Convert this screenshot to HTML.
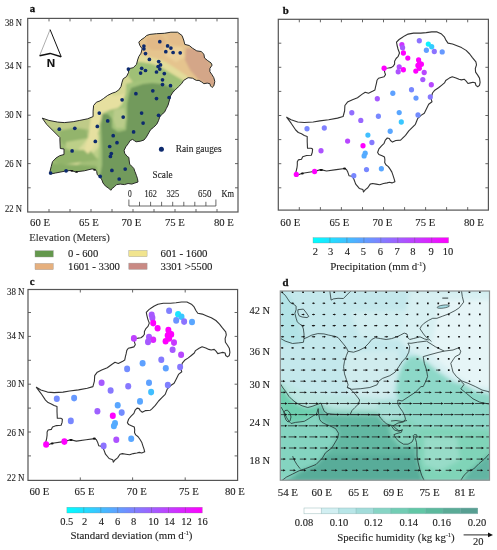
<!DOCTYPE html><html><head><meta charset="utf-8"><title>Pakistan maps</title><style>html,body{margin:0;padding:0;background:#fff;}svg{display:block;}</style></head><body>
<svg width="497" height="550" viewBox="0 0 497 550">
<defs>
<clipPath id="pka"><polygon points="42.2,118.1 48.9,120.4 57.7,122.1 64.3,122.6 73.2,121.7 79.8,120.4 87.6,118.8 93.1,116.6 93.1,111.1 93.6,105.5 96.4,102.2 100.0,100.9 103.3,98.7 107.7,95.4 112.1,93.2 115.5,92.1 118.8,89.9 121.0,86.6 122.1,82.1 123.2,78.8 126.5,76.6 128.7,72.2 127.6,68.9 133.2,67.7 136.5,64.4 137.6,60.0 138.8,56.5 141.0,53.2 142.1,48.8 139.9,45.5 138.8,42.1 141.0,39.9 144.3,37.7 146.6,35.5 149.9,34.4 156.5,33.7 164.3,33.3 170.9,32.2 177.5,32.2 182.0,35.5 183.7,40.0 184.8,44.4 189.2,45.5 192.5,48.2 196.8,50.9 201.2,51.5 203.9,54.2 204.5,58.0 207.8,60.7 211.0,62.9 212.1,65.1 209.9,68.4 209.9,71.7 212.1,74.9 213.8,77.7 214.8,81.5 213.8,85.9 212.1,87.5 210.5,85.9 209.9,83.7 207.2,83.1 203.9,83.7 201.7,82.0 199.0,80.4 196.3,80.4 192.5,78.2 188.1,77.7 183.7,80.4 181.6,83.7 178.3,86.9 175.0,90.2 173.0,92.0 170.5,96.0 169.5,100.0 168.1,105.0 166.3,108.6 164.5,112.2 161.5,114.7 159.7,117.1 158.5,120.7 156.7,124.3 153.6,127.3 150.6,129.7 148.8,132.8 146.4,137.0 144.0,140.0 140.4,141.2 136.1,141.8 134.3,140.6 132.5,139.4 130.1,140.6 128.3,143.6 125.9,146.7 124.1,150.3 124.7,153.3 127.1,156.3 128.9,157.5 129.1,160.0 129.7,164.2 131.8,166.3 133.8,168.4 134.9,171.5 136.5,175.7 137.5,178.8 138.0,182.0 134.9,183.0 131.8,184.1 128.1,183.5 124.4,184.6 120.2,184.1 116.6,184.6 114.5,186.7 112.4,188.2 110.8,190.3 108.7,188.2 105.6,186.2 103.0,183.0 101.9,179.9 99.8,176.7 97.2,174.6 96.7,171.5 95.1,169.4 92.0,168.9 84.3,170.8 75.4,171.9 71.0,170.4 64.3,171.3 55.5,173.0 50.0,174.1 50.0,171.4 51.2,166.6 52.5,161.7 56.0,158.0 59.7,155.7 64.0,154.5 64.0,149.0 60.3,148.5 59.9,140.0 59.9,137.6 53.3,131.0 46.6,124.3"/></clipPath>
<filter id="blA" x="-5%" y="-5%" width="110%" height="110%"><feGaussianBlur stdDeviation="1.3"/></filter>
<filter id="blD" x="-10%" y="-10%" width="120%" height="120%"><feGaussianBlur stdDeviation="2.2"/></filter>
<clipPath id="fd"><rect x="280.3" y="291" width="209.2" height="189.2"/></clipPath>
<linearGradient id="gcool" x1="0" x2="1" y1="0" y2="0"><stop offset="0" stop-color="#00ffff"/><stop offset="1" stop-color="#ff00ff"/></linearGradient>
</defs>
<rect width="497" height="550" fill="#fff"/>
<g clip-path="url(#pka)">
<polygon points="42.2,118.1 48.9,120.4 57.7,122.1 64.3,122.6 73.2,121.7 79.8,120.4 87.6,118.8 93.1,116.6 93.1,111.1 93.6,105.5 96.4,102.2 100.0,100.9 103.3,98.7 107.7,95.4 112.1,93.2 115.5,92.1 118.8,89.9 121.0,86.6 122.1,82.1 123.2,78.8 126.5,76.6 128.7,72.2 127.6,68.9 133.2,67.7 136.5,64.4 137.6,60.0 138.8,56.5 141.0,53.2 142.1,48.8 139.9,45.5 138.8,42.1 141.0,39.9 144.3,37.7 146.6,35.5 149.9,34.4 156.5,33.7 164.3,33.3 170.9,32.2 177.5,32.2 182.0,35.5 183.7,40.0 184.8,44.4 189.2,45.5 192.5,48.2 196.8,50.9 201.2,51.5 203.9,54.2 204.5,58.0 207.8,60.7 211.0,62.9 212.1,65.1 209.9,68.4 209.9,71.7 212.1,74.9 213.8,77.7 214.8,81.5 213.8,85.9 212.1,87.5 210.5,85.9 209.9,83.7 207.2,83.1 203.9,83.7 201.7,82.0 199.0,80.4 196.3,80.4 192.5,78.2 188.1,77.7 183.7,80.4 181.6,83.7 178.3,86.9 175.0,90.2 173.0,92.0 170.5,96.0 169.5,100.0 168.1,105.0 166.3,108.6 164.5,112.2 161.5,114.7 159.7,117.1 158.5,120.7 156.7,124.3 153.6,127.3 150.6,129.7 148.8,132.8 146.4,137.0 144.0,140.0 140.4,141.2 136.1,141.8 134.3,140.6 132.5,139.4 130.1,140.6 128.3,143.6 125.9,146.7 124.1,150.3 124.7,153.3 127.1,156.3 128.9,157.5 129.1,160.0 129.7,164.2 131.8,166.3 133.8,168.4 134.9,171.5 136.5,175.7 137.5,178.8 138.0,182.0 134.9,183.0 131.8,184.1 128.1,183.5 124.4,184.6 120.2,184.1 116.6,184.6 114.5,186.7 112.4,188.2 110.8,190.3 108.7,188.2 105.6,186.2 103.0,183.0 101.9,179.9 99.8,176.7 97.2,174.6 96.7,171.5 95.1,169.4 92.0,168.9 84.3,170.8 75.4,171.9 71.0,170.4 64.3,171.3 55.5,173.0 50.0,174.1 50.0,171.4 51.2,166.6 52.5,161.7 56.0,158.0 59.7,155.7 64.0,154.5 64.0,149.0 60.3,148.5 59.9,140.0 59.9,137.6 53.3,131.0 46.6,124.3" fill="#a3bf78"/>
<g filter="url(#blA)">
<polygon points="40.0,112.0 100.0,108.0 100.0,132.0 80.0,128.0 60.0,130.0 45.0,128.0" fill="#bfcb88"/>
<polygon points="60.0,131.0 72.0,128.0 86.0,130.0 88.0,140.0 82.0,147.0 66.0,147.0 60.0,140.0" fill="#93b46c"/>
<polygon points="66.0,142.0 100.0,136.0 100.0,158.0 80.0,162.0 64.0,160.0" fill="#bccf88"/>
<polygon points="88.0,138.0 100.0,134.0 100.0,146.0 92.0,154.0 82.0,162.0 72.0,168.0 62.0,166.0 68.0,158.0 78.0,150.0" fill="#d8db9a"/>
<polygon points="55.0,145.0 70.0,150.0 90.0,150.0 98.0,160.0 60.0,165.0 52.0,160.0" fill="#92b46b"/>
<polygon points="46.0,163.0 60.0,164.0 80.0,165.0 96.0,166.0 100.0,176.0 48.0,178.0" fill="#88ad65"/>
<polygon points="92.0,96.0 100.0,96.0 115.0,92.0 124.0,88.0 130.0,85.0 131.0,95.0 126.0,104.0 118.0,108.0 110.0,110.0 103.0,113.0 100.0,125.0 97.0,138.0 93.0,148.0 88.0,154.0 84.0,150.0 88.0,138.0 90.0,124.0 92.0,108.0" fill="#e6e0a0"/>
<polygon points="116.0,70.0 130.0,64.0 137.0,60.0 137.0,80.0 130.0,90.0 122.0,95.0 112.0,96.0" fill="#d6d894"/>
<polygon points="132.0,53.0 138.0,53.0 146.0,55.0 154.0,57.0 164.0,60.0 172.0,65.0 181.0,71.0 190.0,77.0 196.0,80.0 190.0,84.0 182.0,80.0 172.0,74.0 162.0,68.0 152.0,64.0 140.0,62.0 132.0,62.0" fill="#e2dc9a"/>
<polygon points="130.0,62.0 140.0,62.0 152.0,64.0 162.0,68.0 172.0,74.0 182.0,80.0 190.0,84.0 184.0,90.0 170.0,88.0 150.0,86.0 136.0,86.0 128.0,76.0" fill="#9fc076"/>
<polygon points="126.0,84.0 140.0,80.0 160.0,80.0 176.0,86.0 190.0,90.0 172.0,130.0 150.0,160.0 135.0,190.0 98.0,195.0 97.0,172.0 99.0,150.0 99.0,125.0 104.0,113.0 114.0,112.0 122.0,104.0 126.0,92.0" fill="#a3c27a"/>
<polygon points="131.0,88.0 143.0,84.0 152.0,83.0 162.0,84.0 170.0,87.0 176.0,90.0 186.0,86.0 190.0,95.0 172.0,130.0 150.0,160.0 140.0,195.0 104.0,195.0 100.0,176.0 102.0,165.0 102.0,150.0 101.0,125.0 102.0,114.0 108.0,114.0 112.0,119.0 112.0,128.0 118.0,132.0 126.0,130.0 127.0,118.0 127.0,104.0 129.0,94.0" fill="#729a5c"/>
<polygon points="114.0,110.0 124.0,108.0 126.0,118.0 124.0,128.0 116.0,128.0 113.0,119.0" fill="#b9cc8a"/>
<polygon points="136.0,38.0 146.0,33.0 160.0,32.0 178.0,31.0 186.0,38.0 196.0,46.0 206.0,54.0 214.0,68.0 217.0,88.0 210.0,88.0 204.0,84.0 196.0,81.0 190.0,78.0 181.0,72.0 172.0,66.0 164.0,61.0 154.0,58.0 146.0,56.0 138.0,54.0" fill="#e5c48e"/>
<polygon points="146.0,38.0 160.0,34.0 166.0,40.0 164.0,50.0 152.0,50.0 146.0,46.0" fill="#e2b987"/>
<polygon points="166.0,33.0 182.0,32.0 186.0,40.0 182.0,46.0 170.0,44.0" fill="#e3bd8b"/>
<polygon points="186.0,48.0 196.0,48.0 206.0,56.0 212.0,68.0 216.0,86.0 208.0,86.0 198.0,79.0 190.0,70.0 185.0,60.0" fill="#d4a688"/>
<polygon points="164.0,47.0 182.0,47.0 185.0,57.0 176.0,62.0 166.0,56.0" fill="#ebd09a"/>
</g></g>
<polygon points="42.2,118.1 48.9,120.4 57.7,122.1 64.3,122.6 73.2,121.7 79.8,120.4 87.6,118.8 93.1,116.6 93.1,111.1 93.6,105.5 96.4,102.2 100.0,100.9 103.3,98.7 107.7,95.4 112.1,93.2 115.5,92.1 118.8,89.9 121.0,86.6 122.1,82.1 123.2,78.8 126.5,76.6 128.7,72.2 127.6,68.9 133.2,67.7 136.5,64.4 137.6,60.0 138.8,56.5 141.0,53.2 142.1,48.8 139.9,45.5 138.8,42.1 141.0,39.9 144.3,37.7 146.6,35.5 149.9,34.4 156.5,33.7 164.3,33.3 170.9,32.2 177.5,32.2 182.0,35.5 183.7,40.0 184.8,44.4 189.2,45.5 192.5,48.2 196.8,50.9 201.2,51.5 203.9,54.2 204.5,58.0 207.8,60.7 211.0,62.9 212.1,65.1 209.9,68.4 209.9,71.7 212.1,74.9 213.8,77.7 214.8,81.5 213.8,85.9 212.1,87.5 210.5,85.9 209.9,83.7 207.2,83.1 203.9,83.7 201.7,82.0 199.0,80.4 196.3,80.4 192.5,78.2 188.1,77.7 183.7,80.4 181.6,83.7 178.3,86.9 175.0,90.2 173.0,92.0 170.5,96.0 169.5,100.0 168.1,105.0 166.3,108.6 164.5,112.2 161.5,114.7 159.7,117.1 158.5,120.7 156.7,124.3 153.6,127.3 150.6,129.7 148.8,132.8 146.4,137.0 144.0,140.0 140.4,141.2 136.1,141.8 134.3,140.6 132.5,139.4 130.1,140.6 128.3,143.6 125.9,146.7 124.1,150.3 124.7,153.3 127.1,156.3 128.9,157.5 129.1,160.0 129.7,164.2 131.8,166.3 133.8,168.4 134.9,171.5 136.5,175.7 137.5,178.8 138.0,182.0 134.9,183.0 131.8,184.1 128.1,183.5 124.4,184.6 120.2,184.1 116.6,184.6 114.5,186.7 112.4,188.2 110.8,190.3 108.7,188.2 105.6,186.2 103.0,183.0 101.9,179.9 99.8,176.7 97.2,174.6 96.7,171.5 95.1,169.4 92.0,168.9 84.3,170.8 75.4,171.9 71.0,170.4 64.3,171.3 55.5,173.0 50.0,174.1 50.0,171.4 51.2,166.6 52.5,161.7 56.0,158.0 59.7,155.7 64.0,154.5 64.0,149.0 60.3,148.5 59.9,140.0 59.9,137.6 53.3,131.0 46.6,124.3" fill="none" stroke="#2a2a2a" stroke-width="1.0" stroke-linejoin="round"/>
<ellipse cx="71.8" cy="170.8" rx="1.5" ry="0.9" fill="#111"/>
<ellipse cx="76.6" cy="171.9" rx="1.3" ry="0.9" fill="#111"/>
<ellipse cx="94.5" cy="169.8" rx="1.3" ry="0.9" fill="#111"/>
<circle cx="159.8" cy="41.7" r="1.85" fill="#0d2a6e"/>
<circle cx="167.6" cy="45.9" r="1.85" fill="#0d2a6e"/>
<circle cx="170.9" cy="48.1" r="1.85" fill="#0d2a6e"/>
<circle cx="165.8" cy="51.7" r="1.85" fill="#0d2a6e"/>
<circle cx="173.1" cy="52.5" r="1.85" fill="#0d2a6e"/>
<circle cx="180.2" cy="52.8" r="1.85" fill="#0d2a6e"/>
<circle cx="143.9" cy="46.1" r="1.85" fill="#0d2a6e"/>
<circle cx="143.9" cy="48.8" r="1.85" fill="#0d2a6e"/>
<circle cx="145.5" cy="53.6" r="1.85" fill="#0d2a6e"/>
<circle cx="149.4" cy="59.4" r="1.85" fill="#0d2a6e"/>
<circle cx="158.7" cy="61.6" r="1.85" fill="#0d2a6e"/>
<circle cx="160.5" cy="64.9" r="1.85" fill="#0d2a6e"/>
<circle cx="158.1" cy="66.5" r="1.85" fill="#0d2a6e"/>
<circle cx="159.8" cy="69.1" r="1.85" fill="#0d2a6e"/>
<circle cx="156.5" cy="72.0" r="1.85" fill="#0d2a6e"/>
<circle cx="164.3" cy="73.6" r="1.85" fill="#0d2a6e"/>
<circle cx="141.7" cy="68.3" r="1.85" fill="#0d2a6e"/>
<circle cx="145.5" cy="70.5" r="1.85" fill="#0d2a6e"/>
<circle cx="140.6" cy="73.1" r="1.85" fill="#0d2a6e"/>
<circle cx="128.4" cy="69.1" r="1.85" fill="#0d2a6e"/>
<circle cx="162.5" cy="79.8" r="1.85" fill="#0d2a6e"/>
<circle cx="162.5" cy="84.6" r="1.85" fill="#0d2a6e"/>
<circle cx="170.5" cy="85.7" r="1.85" fill="#0d2a6e"/>
<circle cx="152.8" cy="90.8" r="1.85" fill="#0d2a6e"/>
<circle cx="135.9" cy="93.7" r="1.85" fill="#0d2a6e"/>
<circle cx="156.5" cy="98.6" r="1.85" fill="#0d2a6e"/>
<circle cx="169.1" cy="97.5" r="1.85" fill="#0d2a6e"/>
<circle cx="122.1" cy="99.8" r="1.85" fill="#0d2a6e"/>
<circle cx="99.3" cy="113.1" r="1.85" fill="#0d2a6e"/>
<circle cx="123.2" cy="117.1" r="1.85" fill="#0d2a6e"/>
<circle cx="141.6" cy="113.1" r="1.85" fill="#0d2a6e"/>
<circle cx="158.6" cy="115.3" r="1.85" fill="#0d2a6e"/>
<circle cx="107.7" cy="120.9" r="1.85" fill="#0d2a6e"/>
<circle cx="143.1" cy="123.1" r="1.85" fill="#0d2a6e"/>
<circle cx="97.3" cy="126.4" r="1.85" fill="#0d2a6e"/>
<circle cx="133.6" cy="131.9" r="1.85" fill="#0d2a6e"/>
<circle cx="113.2" cy="135.7" r="1.85" fill="#0d2a6e"/>
<circle cx="59.3" cy="129.2" r="1.85" fill="#0d2a6e"/>
<circle cx="74.8" cy="128.3" r="1.85" fill="#0d2a6e"/>
<circle cx="95.3" cy="141.4" r="1.85" fill="#0d2a6e"/>
<circle cx="117" cy="142.7" r="1.85" fill="#0d2a6e"/>
<circle cx="109.7" cy="146.5" r="1.85" fill="#0d2a6e"/>
<circle cx="72.1" cy="150.9" r="1.85" fill="#0d2a6e"/>
<circle cx="111.3" cy="153.6" r="1.85" fill="#0d2a6e"/>
<circle cx="110.4" cy="156.4" r="1.85" fill="#0d2a6e"/>
<circle cx="111.9" cy="170.4" r="1.85" fill="#0d2a6e"/>
<circle cx="125.2" cy="169.1" r="1.85" fill="#0d2a6e"/>
<circle cx="50.6" cy="173" r="1.85" fill="#0d2a6e"/>
<circle cx="66.1" cy="170.8" r="1.85" fill="#0d2a6e"/>
<circle cx="100.2" cy="176.4" r="1.85" fill="#0d2a6e"/>
<circle cx="119.2" cy="179" r="1.85" fill="#0d2a6e"/>
<rect x="27.7" y="18.4" width="210.3" height="193.6" fill="none" stroke="#555" stroke-width="1.2"/>
<path d="M49.0,18.4v3.0M49.0,212.0v-3.0M70.0,18.4v3.0M70.0,212.0v-3.0M91.0,18.4v3.0M91.0,212.0v-3.0M112.0,18.4v3.0M112.0,212.0v-3.0M133.0,18.4v3.0M133.0,212.0v-3.0M154.0,18.4v3.0M154.0,212.0v-3.0M175.0,18.4v3.0M175.0,212.0v-3.0M196.0,18.4v3.0M196.0,212.0v-3.0M217.0,18.4v3.0M217.0,212.0v-3.0M27.7,42.6h3.0M238.0,42.6h-3.0M27.7,66.8h3.0M238.0,66.8h-3.0M27.7,91.0h3.0M238.0,91.0h-3.0M27.7,115.2h3.0M238.0,115.2h-3.0M27.7,139.4h3.0M238.0,139.4h-3.0M27.7,163.6h3.0M238.0,163.6h-3.0M27.7,187.8h3.0M238.0,187.8h-3.0" stroke="#555" stroke-width="0.9" fill="none"/>
<text x="29.8" y="12.4" font-size="10.8" font-family="'Liberation Serif','Times New Roman',serif" font-weight="bold" fill="#111" stroke="#111" stroke-width="0.3" text-anchor="start">a</text>
<text x="5.0" y="25.6" font-size="10" font-family="'Liberation Serif','Times New Roman',serif" font-weight="normal" fill="#222" stroke="#222" stroke-width="0.12" text-anchor="start" textLength="17.0" lengthAdjust="spacingAndGlyphs">38 N</text>
<text x="5.0" y="68.6" font-size="10" font-family="'Liberation Serif','Times New Roman',serif" font-weight="normal" fill="#222" stroke="#222" stroke-width="0.12" text-anchor="start" textLength="17.0" lengthAdjust="spacingAndGlyphs">34 N</text>
<text x="5.0" y="118.1" font-size="10" font-family="'Liberation Serif','Times New Roman',serif" font-weight="normal" fill="#222" stroke="#222" stroke-width="0.12" text-anchor="start" textLength="17.0" lengthAdjust="spacingAndGlyphs">30 N</text>
<text x="5.0" y="166.8" font-size="10" font-family="'Liberation Serif','Times New Roman',serif" font-weight="normal" fill="#222" stroke="#222" stroke-width="0.12" text-anchor="start" textLength="17.0" lengthAdjust="spacingAndGlyphs">26 N</text>
<text x="5.0" y="211.7" font-size="10" font-family="'Liberation Serif','Times New Roman',serif" font-weight="normal" fill="#222" stroke="#222" stroke-width="0.12" text-anchor="start" textLength="17.0" lengthAdjust="spacingAndGlyphs">22 N</text>
<text x="30.1" y="225.6" font-size="10.5" font-family="'Liberation Serif','Times New Roman',serif" font-weight="normal" fill="#222" stroke="#222" stroke-width="0.12" text-anchor="start" textLength="19.9" lengthAdjust="spacingAndGlyphs">60 E</text>
<text x="79.0" y="225.6" font-size="10.5" font-family="'Liberation Serif','Times New Roman',serif" font-weight="normal" fill="#222" stroke="#222" stroke-width="0.12" text-anchor="start" textLength="19.9" lengthAdjust="spacingAndGlyphs">65 E</text>
<text x="121.5" y="225.6" font-size="10.5" font-family="'Liberation Serif','Times New Roman',serif" font-weight="normal" fill="#222" stroke="#222" stroke-width="0.12" text-anchor="start" textLength="19.9" lengthAdjust="spacingAndGlyphs">70 E</text>
<text x="165.0" y="225.6" font-size="10.5" font-family="'Liberation Serif','Times New Roman',serif" font-weight="normal" fill="#222" stroke="#222" stroke-width="0.12" text-anchor="start" textLength="19.9" lengthAdjust="spacingAndGlyphs">75 E</text>
<text x="214.0" y="225.6" font-size="10.5" font-family="'Liberation Serif','Times New Roman',serif" font-weight="normal" fill="#222" stroke="#222" stroke-width="0.12" text-anchor="start" textLength="19.9" lengthAdjust="spacingAndGlyphs">80 E</text>
<text x="29.3" y="240.5" font-size="10.5" font-family="'Liberation Serif','Times New Roman',serif" font-weight="normal" fill="#333" stroke="#333" stroke-width="0.12" text-anchor="start" textLength="80.5" lengthAdjust="spacingAndGlyphs">Elevation (Meters)</text>
<rect x="35" y="250.7" width="18.3" height="6.3" fill="#64984d" stroke="#999" stroke-width="0.4"/>
<rect x="35" y="263.4" width="18.3" height="6.3" fill="#e6b07e" stroke="#999" stroke-width="0.4"/>
<rect x="128.8" y="250.4" width="18.3" height="6.3" fill="#f1e48e" stroke="#999" stroke-width="0.4"/>
<rect x="128.8" y="263.1" width="18.3" height="6.3" fill="#c98a84" stroke="#999" stroke-width="0.4"/>
<text x="68.1" y="257.2" font-size="10.5" font-family="'Liberation Serif','Times New Roman',serif" font-weight="normal" fill="#222" stroke="#222" stroke-width="0.12" text-anchor="start" textLength="30.1" lengthAdjust="spacingAndGlyphs">0 - 600</text>
<text x="68.1" y="270.0" font-size="10.5" font-family="'Liberation Serif','Times New Roman',serif" font-weight="normal" fill="#222" stroke="#222" stroke-width="0.12" text-anchor="start" textLength="51.9" lengthAdjust="spacingAndGlyphs">1601 - 3300</text>
<text x="160.5" y="257.2" font-size="10.5" font-family="'Liberation Serif','Times New Roman',serif" font-weight="normal" fill="#222" stroke="#222" stroke-width="0.12" text-anchor="start" textLength="47.0" lengthAdjust="spacingAndGlyphs">601 - 1600</text>
<text x="160.5" y="270.0" font-size="10.5" font-family="'Liberation Serif','Times New Roman',serif" font-weight="normal" fill="#222" stroke="#222" stroke-width="0.12" text-anchor="start" textLength="52.0" lengthAdjust="spacingAndGlyphs">3301 &gt;5500</text>
<circle cx="161.4" cy="149.2" r="2.5" fill="#0d2a6e"/>
<text x="175.7" y="152.2" font-size="10.3" font-family="'Liberation Serif','Times New Roman',serif" font-weight="normal" fill="#222" stroke="#222" stroke-width="0.12" text-anchor="start" textLength="45.9" lengthAdjust="spacingAndGlyphs">Rain gauges</text>
<text x="152.6" y="178.3" font-size="10" font-family="'Liberation Serif','Times New Roman',serif" font-weight="normal" fill="#222" stroke="#222" stroke-width="0.12" text-anchor="start" textLength="20.0" lengthAdjust="spacingAndGlyphs">Scale</text>
<text x="128.0" y="197.2" font-size="9.5" font-family="'Liberation Serif','Times New Roman',serif" font-weight="normal" fill="#222" stroke="#222" stroke-width="0.12" text-anchor="start" textLength="3.7" lengthAdjust="spacingAndGlyphs">0</text>
<text x="144.4" y="197.2" font-size="9.5" font-family="'Liberation Serif','Times New Roman',serif" font-weight="normal" fill="#222" stroke="#222" stroke-width="0.12" text-anchor="start" textLength="12.4" lengthAdjust="spacingAndGlyphs">162</text>
<text x="166.5" y="197.2" font-size="9.5" font-family="'Liberation Serif','Times New Roman',serif" font-weight="normal" fill="#222" stroke="#222" stroke-width="0.12" text-anchor="start" textLength="12.8" lengthAdjust="spacingAndGlyphs">325</text>
<text x="198.1" y="197.2" font-size="9.5" font-family="'Liberation Serif','Times New Roman',serif" font-weight="normal" fill="#222" stroke="#222" stroke-width="0.12" text-anchor="start" textLength="13.3" lengthAdjust="spacingAndGlyphs">650</text>
<text x="221.4" y="197.2" font-size="9.5" font-family="'Liberation Serif','Times New Roman',serif" font-weight="normal" fill="#222" stroke="#222" stroke-width="0.12" text-anchor="start" textLength="12.6" lengthAdjust="spacingAndGlyphs">Km</text>
<path d="M128.9,206H215.9M128.9,199.5V206M139.5,201.8V206M150.6,201.8V206M161.6,201.8V206M172.7,201.8V206M183.8,201.8V206M194.8,201.8V206M205.9,201.8V206M215.9,199.5V206" stroke="#444" stroke-width="0.8" fill="none"/>
<path d="M50.1,29.6L39.6,55.7" stroke="#777" stroke-width="0.6" fill="none"/>
<path d="M50.1,29.6L61.2,56.7" stroke="#111" stroke-width="1.0" fill="none"/>
<path d="M39.6,55.7L50.1,53.4L61.2,56.7" stroke="#111" stroke-width="1.5" fill="none" stroke-linejoin="round"/>
<text x="50.9" y="67.3" font-size="10.5" font-family="'Liberation Sans',Arial,sans-serif" font-weight="bold" fill="#111" stroke="#111" stroke-width="0.12" text-anchor="middle" textLength="8.4" lengthAdjust="spacingAndGlyphs">N</text>
<polygon points="286.6,117.2 291.1,119.8 297.7,122.0 304.3,122.5 313.2,122.0 319.8,120.9 328.7,119.8 337.5,118.1 343.1,116.5 344.6,111.0 344.9,105.5 347.5,102.1 351.9,99.9 357.5,97.7 361.9,94.4 365.2,92.2 368.5,93.3 373.0,91.1 374.9,90.0 375.6,86.6 376.3,83.8 377.0,80.3 378.5,78.2 381.3,77.5 384.1,76.8 385.5,74.6 384.8,72.5 384.1,69.7 385.5,68.3 388.3,68.0 391.1,67.6 393.2,66.2 394.6,64.1 394.6,61.3 396.1,58.5 398.2,56.3 399.5,53.0 398.0,49.0 397.0,45.0 396.5,42.2 399.1,39.5 401.8,37.7 404.5,35.9 408.1,34.1 413.5,33.1 420.8,33.1 426.2,32.6 431.7,31.9 437.1,31.9 441.6,34.1 444.3,36.8 446.1,40.4 448.0,43.1 452.5,44.0 457.0,45.8 461.5,47.6 466.1,50.4 469.7,54.0 472.4,57.6 475.9,61.8 476.5,64.8 475.3,68.5 475.6,72.1 477.7,75.1 479.5,78.1 480.1,82.3 479.5,85.4 477.7,86.8 475.9,85.4 475.3,82.9 472.9,82.3 470.4,82.9 468.0,83.5 466.2,81.1 464.4,79.3 461.4,79.9 459.0,79.3 456.0,77.9 452.3,76.7 449.3,78.1 445.7,80.5 444.5,82.9 441.5,85.4 438.5,87.8 434.8,90.2 432.5,93.0 431.4,97.0 431.4,99.9 432.0,101.7 428.7,104.3 426.5,108.8 424.3,113.2 421.0,115.4 417.6,118.7 415.4,124.3 412.1,127.6 408.8,130.9 405.5,135.3 402.1,138.7 400.6,140.1 395.8,140.5 392.5,142.1 390.5,140.5 389.3,138.5 387.3,138.0 385.3,140.1 384.1,143.3 381.3,146.1 378.9,148.9 377.6,152.5 378.9,154.5 382.1,155.8 384.5,157.0 384.9,159.8 384.7,162.4 385.9,164.8 388.3,166.6 390.1,169.1 391.9,172.1 393.1,175.7 394.3,179.3 394.9,181.7 391.9,182.9 389.5,182.3 387.1,182.9 383.5,183.5 379.8,184.7 376.2,184.1 372.6,183.5 370.2,184.1 367.8,187.8 365.4,189.6 363.5,192.0 362.9,189.6 359.3,188.4 355.7,184.1 353.9,179.3 352.1,176.3 349.0,175.7 347.8,172.1 346.6,169.7 344.8,168.5 336.3,169.6 326.5,171.0 320.8,169.6 313.8,171.5 302.5,173.2 296.9,175.2 295.5,173.8 296.9,168.2 297.3,165.0 297.3,161.8 298.3,159.9 301.5,159.3 302.7,156.8 306.6,155.5 311.3,155.2 312.3,152.3 312.6,149.1 311.0,148.2 307.5,148.2 307.2,141.5 307.2,136.4 304.3,135.4 301.5,133.8 298.3,132.5 295.7,130.0 291.1,123.2" fill="#fff" stroke="#333" stroke-width="1.1" stroke-linejoin="round"/>
<ellipse cx="419.3" cy="40.7" rx="2.6" ry="2.7" fill="rgb(140,115,255)"/>
<ellipse cx="428.3" cy="44.1" rx="2.6" ry="2.7" fill="rgb(13,242,255)"/>
<ellipse cx="431.7" cy="46.7" rx="2.6" ry="2.7" fill="rgb(51,204,255)"/>
<ellipse cx="426.4" cy="50.3" rx="2.6" ry="2.7" fill="rgb(97,158,255)"/>
<ellipse cx="434.3" cy="51.5" rx="2.6" ry="2.7" fill="rgb(140,115,255)"/>
<ellipse cx="442.2" cy="51.9" rx="2.6" ry="2.7" fill="rgb(102,153,255)"/>
<ellipse cx="401.9" cy="44.8" rx="2.6" ry="2.7" fill="rgb(204,51,255)"/>
<ellipse cx="402.6" cy="47.8" rx="2.6" ry="2.7" fill="rgb(166,89,255)"/>
<ellipse cx="403.4" cy="53.0" rx="2.6" ry="2.7" fill="rgb(255,0,255)"/>
<ellipse cx="407.8" cy="58.1" rx="2.6" ry="2.7" fill="rgb(255,0,255)"/>
<ellipse cx="418.6" cy="60.0" rx="2.6" ry="2.7" fill="rgb(255,0,255)"/>
<ellipse cx="419.5" cy="63.4" rx="2.6" ry="2.7" fill="rgb(255,0,255)"/>
<ellipse cx="421.4" cy="64.3" rx="2.6" ry="2.7" fill="rgb(255,0,255)"/>
<ellipse cx="417.9" cy="65.5" rx="2.6" ry="2.7" fill="rgb(255,0,255)"/>
<ellipse cx="419.3" cy="68.3" rx="2.6" ry="2.7" fill="rgb(255,0,255)"/>
<ellipse cx="415.8" cy="71.1" rx="2.6" ry="2.7" fill="rgb(255,0,255)"/>
<ellipse cx="424.2" cy="72.5" rx="2.6" ry="2.7" fill="rgb(184,71,255)"/>
<ellipse cx="422.8" cy="79.6" rx="2.6" ry="2.7" fill="rgb(166,89,255)"/>
<ellipse cx="431.3" cy="84.7" rx="2.6" ry="2.7" fill="rgb(184,71,255)"/>
<ellipse cx="384.1" cy="68.3" rx="2.6" ry="2.7" fill="rgb(255,0,255)"/>
<ellipse cx="399.2" cy="66.9" rx="2.6" ry="2.7" fill="rgb(178,77,255)"/>
<ellipse cx="403.4" cy="69.7" rx="2.6" ry="2.7" fill="rgb(255,0,255)"/>
<ellipse cx="398.2" cy="71.8" rx="2.6" ry="2.7" fill="rgb(173,82,255)"/>
<ellipse cx="411.5" cy="89.7" rx="2.6" ry="2.7" fill="rgb(120,135,255)"/>
<ellipse cx="430.3" cy="97.0" rx="2.6" ry="2.7" fill="rgb(135,120,255)"/>
<ellipse cx="392.8" cy="93.2" rx="2.6" ry="2.7" fill="rgb(94,161,255)"/>
<ellipse cx="416.0" cy="98.1" rx="2.6" ry="2.7" fill="rgb(102,153,255)"/>
<ellipse cx="399.2" cy="112.6" rx="2.6" ry="2.7" fill="rgb(89,166,255)"/>
<ellipse cx="418.0" cy="115.0" rx="2.6" ry="2.7" fill="rgb(115,140,255)"/>
<ellipse cx="401.3" cy="122.0" rx="2.6" ry="2.7" fill="rgb(56,199,255)"/>
<ellipse cx="390.2" cy="131.3" rx="2.6" ry="2.7" fill="rgb(89,166,255)"/>
<ellipse cx="377.3" cy="98.8" rx="2.6" ry="2.7" fill="rgb(166,89,255)"/>
<ellipse cx="351.8" cy="112.7" rx="2.6" ry="2.7" fill="rgb(145,110,255)"/>
<ellipse cx="378.4" cy="116.2" rx="2.6" ry="2.7" fill="rgb(120,135,255)"/>
<ellipse cx="360.8" cy="120.4" rx="2.6" ry="2.7" fill="rgb(153,102,255)"/>
<ellipse cx="307.0" cy="128.7" rx="2.6" ry="2.7" fill="rgb(120,135,255)"/>
<ellipse cx="324.3" cy="128.0" rx="2.6" ry="2.7" fill="rgb(128,128,255)"/>
<ellipse cx="367.9" cy="135.1" rx="2.6" ry="2.7" fill="rgb(64,191,255)"/>
<ellipse cx="347.6" cy="141.1" rx="2.6" ry="2.7" fill="rgb(184,71,255)"/>
<ellipse cx="363.0" cy="145.7" rx="2.6" ry="2.7" fill="rgb(255,0,255)"/>
<ellipse cx="371.9" cy="142.5" rx="2.6" ry="2.7" fill="rgb(133,122,255)"/>
<ellipse cx="365.2" cy="153.2" rx="2.6" ry="2.7" fill="rgb(84,171,255)"/>
<ellipse cx="364.1" cy="155.9" rx="2.6" ry="2.7" fill="rgb(84,171,255)"/>
<ellipse cx="321.0" cy="150.8" rx="2.6" ry="2.7" fill="rgb(173,82,255)"/>
<ellipse cx="296.3" cy="174.4" rx="2.6" ry="2.7" fill="rgb(255,0,255)"/>
<ellipse cx="314.6" cy="171.5" rx="2.6" ry="2.7" fill="rgb(255,0,255)"/>
<ellipse cx="366.5" cy="169.6" rx="2.6" ry="2.7" fill="rgb(120,135,255)"/>
<ellipse cx="381.4" cy="168.7" rx="2.6" ry="2.7" fill="rgb(89,166,255)"/>
<ellipse cx="353.8" cy="175.8" rx="2.6" ry="2.7" fill="rgb(120,135,255)"/>
<ellipse cx="302.3" cy="173.4" rx="1.5" ry="1.0" fill="#111"/>
<ellipse cx="321.2" cy="170.0" rx="1.7" ry="1.0" fill="#111"/>
<ellipse cx="344.5" cy="168.4" rx="1.5" ry="1.0" fill="#111"/>
<rect x="278.3" y="19.3" width="210.1" height="190.8" fill="none" stroke="#555" stroke-width="1.2"/>
<path d="M299.3,19.3v3.0M299.3,210.1v-3.0M320.4,19.3v3.0M320.4,210.1v-3.0M341.4,19.3v3.0M341.4,210.1v-3.0M362.5,19.3v3.0M362.5,210.1v-3.0M383.5,19.3v3.0M383.5,210.1v-3.0M404.6,19.3v3.0M404.6,210.1v-3.0M425.6,19.3v3.0M425.6,210.1v-3.0M446.6,19.3v3.0M446.6,210.1v-3.0M467.7,19.3v3.0M467.7,210.1v-3.0M278.3,43.2h3.0M488.4,43.2h-3.0M278.3,67.3h3.0M488.4,67.3h-3.0M278.3,91.4h3.0M488.4,91.4h-3.0M278.3,115.5h3.0M488.4,115.5h-3.0M278.3,139.6h3.0M488.4,139.6h-3.0M278.3,163.7h3.0M488.4,163.7h-3.0M278.3,187.8h3.0M488.4,187.8h-3.0" stroke="#555" stroke-width="0.9" fill="none"/>
<text x="282.8" y="14.3" font-size="10.8" font-family="'Liberation Serif','Times New Roman',serif" font-weight="bold" fill="#111" stroke="#111" stroke-width="0.3" text-anchor="start">b</text>
<text x="280.3" y="225.7" font-size="10.5" font-family="'Liberation Serif','Times New Roman',serif" font-weight="normal" fill="#222" stroke="#222" stroke-width="0.12" text-anchor="start" textLength="19.9" lengthAdjust="spacingAndGlyphs">60 E</text>
<text x="329.5" y="225.7" font-size="10.5" font-family="'Liberation Serif','Times New Roman',serif" font-weight="normal" fill="#222" stroke="#222" stroke-width="0.12" text-anchor="start" textLength="19.9" lengthAdjust="spacingAndGlyphs">65 E</text>
<text x="372.4" y="225.7" font-size="10.5" font-family="'Liberation Serif','Times New Roman',serif" font-weight="normal" fill="#222" stroke="#222" stroke-width="0.12" text-anchor="start" textLength="19.9" lengthAdjust="spacingAndGlyphs">70 E</text>
<text x="415.3" y="225.7" font-size="10.5" font-family="'Liberation Serif','Times New Roman',serif" font-weight="normal" fill="#222" stroke="#222" stroke-width="0.12" text-anchor="start" textLength="19.9" lengthAdjust="spacingAndGlyphs">75 E</text>
<text x="464.0" y="225.7" font-size="10.5" font-family="'Liberation Serif','Times New Roman',serif" font-weight="normal" fill="#222" stroke="#222" stroke-width="0.12" text-anchor="start" textLength="19.9" lengthAdjust="spacingAndGlyphs">80 E</text>
<rect x="313" y="237.6" width="135.6" height="5.4" fill="url(#gcool)"/>
<path d="M329.9,237.6V243M346.9,237.6V243M363.9,237.6V243M380.8,237.6V243M397.8,237.6V243M414.7,237.6V243M431.7,237.6V243" stroke="#555" stroke-width="0.5" stroke-opacity="0.7" fill="none"/>
<rect x="313" y="237.6" width="135.6" height="5.4" fill="none" stroke="#888" stroke-width="0.3"/>
<text x="315.4" y="255.0" font-size="10.5" font-family="'Liberation Serif','Times New Roman',serif" font-weight="normal" fill="#222" stroke="#222" stroke-width="0.12" text-anchor="middle">2</text>
<text x="330.6" y="255.0" font-size="10.5" font-family="'Liberation Serif','Times New Roman',serif" font-weight="normal" fill="#222" stroke="#222" stroke-width="0.12" text-anchor="middle">3</text>
<text x="347.3" y="255.0" font-size="10.5" font-family="'Liberation Serif','Times New Roman',serif" font-weight="normal" fill="#222" stroke="#222" stroke-width="0.12" text-anchor="middle">4</text>
<text x="363.3" y="255.0" font-size="10.5" font-family="'Liberation Serif','Times New Roman',serif" font-weight="normal" fill="#222" stroke="#222" stroke-width="0.12" text-anchor="middle">5</text>
<text x="380.4" y="255.0" font-size="10.5" font-family="'Liberation Serif','Times New Roman',serif" font-weight="normal" fill="#222" stroke="#222" stroke-width="0.12" text-anchor="middle">6</text>
<text x="397.2" y="255.0" font-size="10.5" font-family="'Liberation Serif','Times New Roman',serif" font-weight="normal" fill="#222" stroke="#222" stroke-width="0.12" text-anchor="middle">7</text>
<text x="412.9" y="255.0" font-size="10.5" font-family="'Liberation Serif','Times New Roman',serif" font-weight="normal" fill="#222" stroke="#222" stroke-width="0.12" text-anchor="middle">8</text>
<text x="431.2" y="255.0" font-size="10.5" font-family="'Liberation Serif','Times New Roman',serif" font-weight="normal" fill="#222" stroke="#222" stroke-width="0.12" text-anchor="middle">9</text>
<text x="448.0" y="255.0" font-size="10.5" font-family="'Liberation Serif','Times New Roman',serif" font-weight="normal" fill="#222" stroke="#222" stroke-width="0.12" text-anchor="middle">10</text>
<text x="330.2" y="269.8" font-size="10.9" font-family="'Liberation Serif','Times New Roman',serif" font-weight="normal" fill="#222" stroke="#222" stroke-width="0.12" text-anchor="start">Precipitation (mm d<tspan font-size="6" dy="-4">-1</tspan><tspan dy="4">)</tspan></text>
<polygon points="36.4,387.3 40.9,389.9 47.5,392.1 54.1,392.6 63.0,392.1 69.6,391.0 78.5,389.9 87.3,388.2 92.9,386.6 94.4,381.1 94.7,375.6 97.3,372.2 101.7,370.0 107.3,367.8 111.7,364.5 115.0,362.3 118.3,363.4 122.8,361.2 124.7,360.1 125.4,356.7 126.1,353.9 126.8,350.4 128.3,348.3 131.1,347.6 133.9,346.9 135.3,344.7 134.6,342.6 133.9,339.8 135.3,338.4 138.1,338.1 140.9,337.7 143.0,336.3 144.4,334.2 144.4,331.4 145.9,328.6 148.0,326.4 149.3,323.1 147.8,319.1 146.8,315.1 146.3,312.3 148.9,309.6 151.6,307.8 154.3,306.0 157.9,304.2 163.3,303.2 170.6,303.2 176.0,302.7 181.5,302.0 186.9,302.0 191.4,304.2 194.1,306.9 195.9,310.5 197.8,313.2 202.3,314.1 206.8,315.9 211.3,317.7 215.9,320.5 219.5,324.1 222.2,327.7 225.7,331.9 226.3,334.9 225.1,338.6 225.4,342.2 227.5,345.2 229.3,348.2 229.9,352.4 229.3,355.5 227.5,356.9 225.7,355.5 225.1,353.0 222.7,352.4 220.2,353.0 217.8,353.6 216.0,351.2 214.2,349.4 211.2,350.0 208.8,349.4 205.8,348.0 202.1,346.8 199.1,348.2 195.5,350.6 194.3,353.0 191.3,355.5 188.3,357.9 184.6,360.3 182.3,363.1 181.2,367.1 181.2,370.0 181.8,371.8 178.5,374.4 176.3,378.9 174.1,383.3 170.8,385.5 167.4,388.8 165.2,394.4 161.9,397.7 158.6,401.0 155.3,405.4 151.9,408.8 150.4,410.2 145.6,410.6 142.3,412.2 140.3,410.6 139.1,408.6 137.1,408.1 135.1,410.2 133.9,413.4 131.1,416.2 128.7,419.0 127.4,422.6 128.7,424.6 131.9,425.9 134.3,427.1 134.7,429.9 134.5,432.5 135.7,434.9 138.1,436.7 139.9,439.2 141.7,442.2 142.9,445.8 144.1,449.4 144.7,451.8 141.7,453.0 139.3,452.4 136.9,453.0 133.3,453.6 129.6,454.8 126.0,454.2 122.4,453.6 120.0,454.2 117.6,457.9 115.2,459.7 113.3,462.1 112.7,459.7 109.1,458.5 105.5,454.2 103.7,449.4 101.9,446.4 98.8,445.8 97.6,442.2 96.4,439.8 94.6,438.6 86.1,439.7 76.3,441.1 70.6,439.7 63.6,441.6 52.3,443.3 46.7,445.3 45.3,443.9 46.7,438.3 47.1,435.1 47.1,431.9 48.1,430.0 51.3,429.4 52.5,426.9 56.4,425.6 61.1,425.3 62.1,422.4 62.4,419.2 60.8,418.3 57.3,418.3 57.0,411.6 57.0,406.5 54.1,405.5 51.3,403.9 48.1,402.6 45.5,400.1 40.9,393.3" fill="#fff" stroke="#333" stroke-width="1.1" stroke-linejoin="round"/>
<ellipse cx="169.1" cy="310.8" rx="3.0" ry="3.3" fill="rgb(128,128,255)"/>
<ellipse cx="178.1" cy="314.2" rx="3.0" ry="3.3" fill="rgb(26,230,255)"/>
<ellipse cx="181.5" cy="316.8" rx="3.0" ry="3.3" fill="rgb(56,199,255)"/>
<ellipse cx="176.2" cy="320.4" rx="3.0" ry="3.3" fill="rgb(107,148,255)"/>
<ellipse cx="184.1" cy="321.6" rx="3.0" ry="3.3" fill="rgb(140,115,255)"/>
<ellipse cx="192.0" cy="322.0" rx="3.0" ry="3.3" fill="rgb(89,166,255)"/>
<ellipse cx="151.7" cy="314.9" rx="3.0" ry="3.3" fill="rgb(166,89,255)"/>
<ellipse cx="152.4" cy="317.9" rx="3.0" ry="3.3" fill="rgb(166,89,255)"/>
<ellipse cx="153.2" cy="323.1" rx="3.0" ry="3.3" fill="rgb(255,0,255)"/>
<ellipse cx="157.6" cy="328.2" rx="3.0" ry="3.3" fill="rgb(255,0,255)"/>
<ellipse cx="168.4" cy="330.1" rx="3.0" ry="3.3" fill="rgb(255,0,255)"/>
<ellipse cx="169.3" cy="333.5" rx="3.0" ry="3.3" fill="rgb(255,0,255)"/>
<ellipse cx="171.2" cy="334.4" rx="3.0" ry="3.3" fill="rgb(255,0,255)"/>
<ellipse cx="167.7" cy="335.6" rx="3.0" ry="3.3" fill="rgb(255,0,255)"/>
<ellipse cx="169.1" cy="338.4" rx="3.0" ry="3.3" fill="rgb(255,0,255)"/>
<ellipse cx="165.6" cy="341.2" rx="3.0" ry="3.3" fill="rgb(255,0,255)"/>
<ellipse cx="174.0" cy="342.6" rx="3.0" ry="3.3" fill="rgb(199,56,255)"/>
<ellipse cx="172.6" cy="349.7" rx="3.0" ry="3.3" fill="rgb(166,89,255)"/>
<ellipse cx="181.1" cy="354.8" rx="3.0" ry="3.3" fill="rgb(184,71,255)"/>
<ellipse cx="133.9" cy="338.4" rx="3.0" ry="3.3" fill="rgb(191,64,255)"/>
<ellipse cx="149.0" cy="337.0" rx="3.0" ry="3.3" fill="rgb(166,89,255)"/>
<ellipse cx="153.2" cy="339.8" rx="3.0" ry="3.3" fill="rgb(217,38,255)"/>
<ellipse cx="148.0" cy="341.9" rx="3.0" ry="3.3" fill="rgb(166,89,255)"/>
<ellipse cx="161.3" cy="359.8" rx="3.0" ry="3.3" fill="rgb(133,122,255)"/>
<ellipse cx="180.1" cy="367.1" rx="3.0" ry="3.3" fill="rgb(135,120,255)"/>
<ellipse cx="142.6" cy="363.3" rx="3.0" ry="3.3" fill="rgb(94,161,255)"/>
<ellipse cx="165.8" cy="368.2" rx="3.0" ry="3.3" fill="rgb(94,161,255)"/>
<ellipse cx="149.0" cy="382.7" rx="3.0" ry="3.3" fill="rgb(94,161,255)"/>
<ellipse cx="167.8" cy="385.1" rx="3.0" ry="3.3" fill="rgb(128,128,255)"/>
<ellipse cx="151.1" cy="392.1" rx="3.0" ry="3.3" fill="rgb(64,191,255)"/>
<ellipse cx="140.0" cy="401.4" rx="3.0" ry="3.3" fill="rgb(89,166,255)"/>
<ellipse cx="127.1" cy="368.9" rx="3.0" ry="3.3" fill="rgb(115,140,255)"/>
<ellipse cx="101.6" cy="382.8" rx="3.0" ry="3.3" fill="rgb(166,89,255)"/>
<ellipse cx="128.2" cy="386.3" rx="3.0" ry="3.3" fill="rgb(135,120,255)"/>
<ellipse cx="110.6" cy="390.5" rx="3.0" ry="3.3" fill="rgb(135,120,255)"/>
<ellipse cx="56.8" cy="398.8" rx="3.0" ry="3.3" fill="rgb(115,140,255)"/>
<ellipse cx="74.1" cy="398.1" rx="3.0" ry="3.3" fill="rgb(102,153,255)"/>
<ellipse cx="117.7" cy="405.2" rx="3.0" ry="3.3" fill="rgb(89,166,255)"/>
<ellipse cx="97.4" cy="411.2" rx="3.0" ry="3.3" fill="rgb(158,97,255)"/>
<ellipse cx="112.8" cy="415.8" rx="3.0" ry="3.3" fill="rgb(255,0,255)"/>
<ellipse cx="121.7" cy="412.6" rx="3.0" ry="3.3" fill="rgb(115,140,255)"/>
<ellipse cx="115.0" cy="423.3" rx="3.0" ry="3.3" fill="rgb(84,171,255)"/>
<ellipse cx="113.9" cy="426.0" rx="3.0" ry="3.3" fill="rgb(84,171,255)"/>
<ellipse cx="70.8" cy="420.9" rx="3.0" ry="3.3" fill="rgb(120,135,255)"/>
<ellipse cx="46.1" cy="444.5" rx="3.0" ry="3.3" fill="rgb(255,0,255)"/>
<ellipse cx="64.4" cy="441.6" rx="3.0" ry="3.3" fill="rgb(255,0,255)"/>
<ellipse cx="116.3" cy="439.7" rx="3.0" ry="3.3" fill="rgb(173,82,255)"/>
<ellipse cx="131.2" cy="438.8" rx="3.0" ry="3.3" fill="rgb(89,166,255)"/>
<ellipse cx="103.6" cy="445.9" rx="3.0" ry="3.3" fill="rgb(140,115,255)"/>
<ellipse cx="52.1" cy="443.5" rx="1.5" ry="1.0" fill="#111"/>
<ellipse cx="71.0" cy="440.1" rx="1.7" ry="1.0" fill="#111"/>
<ellipse cx="94.3" cy="438.5" rx="1.5" ry="1.0" fill="#111"/>
<rect x="28" y="289.5" width="209.6" height="190.9" fill="none" stroke="#555" stroke-width="1.2"/>
<path d="M80.3,289.5v3.0M80.3,480.4v-3.0M132.6,289.5v3.0M132.6,480.4v-3.0M185.2,289.5v3.0M185.2,480.4v-3.0M28.0,312.5h3.0M237.6,312.5h-3.0M28.0,336.4h3.0M237.6,336.4h-3.0M28.0,360.3h3.0M237.6,360.3h-3.0M28.0,384.2h3.0M237.6,384.2h-3.0M28.0,408.1h3.0M237.6,408.1h-3.0M28.0,432.0h3.0M237.6,432.0h-3.0M28.0,455.9h3.0M237.6,455.9h-3.0" stroke="#555" stroke-width="0.9" fill="none"/>
<text x="29.8" y="284.6" font-size="10.8" font-family="'Liberation Serif','Times New Roman',serif" font-weight="bold" fill="#111" stroke="#111" stroke-width="0.3" text-anchor="start">c</text>
<text x="7.0" y="294.7" font-size="10" font-family="'Liberation Serif','Times New Roman',serif" font-weight="normal" fill="#222" stroke="#222" stroke-width="0.12" text-anchor="start" textLength="17.5" lengthAdjust="spacingAndGlyphs">38 N</text>
<text x="7.0" y="339.0" font-size="10" font-family="'Liberation Serif','Times New Roman',serif" font-weight="normal" fill="#222" stroke="#222" stroke-width="0.12" text-anchor="start" textLength="17.5" lengthAdjust="spacingAndGlyphs">34 N</text>
<text x="7.0" y="387.4" font-size="10" font-family="'Liberation Serif','Times New Roman',serif" font-weight="normal" fill="#222" stroke="#222" stroke-width="0.12" text-anchor="start" textLength="17.5" lengthAdjust="spacingAndGlyphs">30 N</text>
<text x="7.0" y="435.5" font-size="10" font-family="'Liberation Serif','Times New Roman',serif" font-weight="normal" fill="#222" stroke="#222" stroke-width="0.12" text-anchor="start" textLength="17.5" lengthAdjust="spacingAndGlyphs">26 N</text>
<text x="7.0" y="481.3" font-size="10" font-family="'Liberation Serif','Times New Roman',serif" font-weight="normal" fill="#222" stroke="#222" stroke-width="0.12" text-anchor="start" textLength="17.5" lengthAdjust="spacingAndGlyphs">22 N</text>
<text x="29.4" y="495.0" font-size="10.5" font-family="'Liberation Serif','Times New Roman',serif" font-weight="normal" fill="#222" stroke="#222" stroke-width="0.12" text-anchor="start" textLength="19.9" lengthAdjust="spacingAndGlyphs">60 E</text>
<text x="74.6" y="495.0" font-size="10.5" font-family="'Liberation Serif','Times New Roman',serif" font-weight="normal" fill="#222" stroke="#222" stroke-width="0.12" text-anchor="start" textLength="19.9" lengthAdjust="spacingAndGlyphs">65 E</text>
<text x="126.8" y="495.0" font-size="10.5" font-family="'Liberation Serif','Times New Roman',serif" font-weight="normal" fill="#222" stroke="#222" stroke-width="0.12" text-anchor="start" textLength="19.9" lengthAdjust="spacingAndGlyphs">70 E</text>
<text x="179.0" y="495.0" font-size="10.5" font-family="'Liberation Serif','Times New Roman',serif" font-weight="normal" fill="#222" stroke="#222" stroke-width="0.12" text-anchor="start" textLength="19.9" lengthAdjust="spacingAndGlyphs">75 E</text>
<text x="225.0" y="495.0" font-size="10.5" font-family="'Liberation Serif','Times New Roman',serif" font-weight="normal" fill="#222" stroke="#222" stroke-width="0.12" text-anchor="start" textLength="19.9" lengthAdjust="spacingAndGlyphs">80 E</text>
<rect x="66.9" y="507.2" width="135.4" height="5.8" fill="url(#gcool)"/>
<path d="M83.8,507.2V513M100.8,507.2V513M117.7,507.2V513M134.6,507.2V513M151.5,507.2V513M168.5,507.2V513M185.4,507.2V513" stroke="#555" stroke-width="0.5" stroke-opacity="0.7" fill="none"/>
<rect x="66.9" y="507.2" width="135.4" height="5.8" fill="none" stroke="#888" stroke-width="0.3"/>
<text x="66.8" y="524.8" font-size="10.5" font-family="'Liberation Serif','Times New Roman',serif" font-weight="normal" fill="#222" stroke="#222" stroke-width="0.12" text-anchor="middle">0.5</text>
<text x="84.6" y="524.8" font-size="10.5" font-family="'Liberation Serif','Times New Roman',serif" font-weight="normal" fill="#222" stroke="#222" stroke-width="0.12" text-anchor="middle">2</text>
<text x="101.4" y="524.8" font-size="10.5" font-family="'Liberation Serif','Times New Roman',serif" font-weight="normal" fill="#222" stroke="#222" stroke-width="0.12" text-anchor="middle">4</text>
<text x="117.6" y="524.8" font-size="10.5" font-family="'Liberation Serif','Times New Roman',serif" font-weight="normal" fill="#222" stroke="#222" stroke-width="0.12" text-anchor="middle">6</text>
<text x="133.6" y="524.8" font-size="10.5" font-family="'Liberation Serif','Times New Roman',serif" font-weight="normal" fill="#222" stroke="#222" stroke-width="0.12" text-anchor="middle">8</text>
<text x="153.5" y="524.8" font-size="10.5" font-family="'Liberation Serif','Times New Roman',serif" font-weight="normal" fill="#222" stroke="#222" stroke-width="0.12" text-anchor="middle">10</text>
<text x="169.4" y="524.8" font-size="10.5" font-family="'Liberation Serif','Times New Roman',serif" font-weight="normal" fill="#222" stroke="#222" stroke-width="0.12" text-anchor="middle">14</text>
<text x="186.4" y="524.8" font-size="10.5" font-family="'Liberation Serif','Times New Roman',serif" font-weight="normal" fill="#222" stroke="#222" stroke-width="0.12" text-anchor="middle">12</text>
<text x="202.5" y="524.8" font-size="10.5" font-family="'Liberation Serif','Times New Roman',serif" font-weight="normal" fill="#222" stroke="#222" stroke-width="0.12" text-anchor="middle">16</text>
<text x="70.4" y="539.3" font-size="10.9" font-family="'Liberation Serif','Times New Roman',serif" font-weight="normal" fill="#222" stroke="#222" stroke-width="0.12" text-anchor="start">Standard deviation (mm d<tspan font-size="6" dy="-4">-1</tspan><tspan dy="4">)</tspan></text>
<g clip-path="url(#fd)">
<rect x="278" y="289" width="214" height="194" fill="#c4e8ec"/>
<g filter="url(#blD)">
<polygon points="278.0,290.0 284.0,292.0 292.0,300.0 297.0,312.0 300.0,325.0 303.0,342.0 278.0,345.0" fill="#b2e3e6"/>
<polygon points="350.0,312.0 420.0,310.0 425.0,330.0 400.0,340.0 360.0,338.0" fill="#d2eef0"/>
<polygon points="410.0,291.0 492.0,291.0 492.0,392.0 475.0,390.0 462.0,384.0 450.0,378.0 438.0,370.0 428.0,362.0 418.0,356.0 408.0,350.0 400.0,340.0 405.0,320.0" fill="#d8f0f2"/>
<polygon points="440.0,300.0 492.0,300.0 492.0,388.0 470.0,384.0 455.0,374.0 440.0,362.0 430.0,352.0 435.0,330.0" fill="#e6f5f7"/>
<polygon points="345.0,352.0 398.0,350.0 400.0,366.0 396.0,380.0 392.0,395.0 380.0,400.0 360.0,398.0 348.0,392.0 344.0,380.0" fill="#d0ecee"/>
<polygon points="402.0,366.0 409.0,357.0 418.0,356.0 429.0,364.0 440.0,373.0 453.0,382.0 464.0,384.0 475.0,391.0 492.0,395.0 492.0,440.0 420.0,440.0 406.0,420.0 400.0,405.0 396.0,390.0 398.0,377.0" fill="#8dd8c8"/>
<polygon points="278.0,378.0 300.0,390.0 322.0,394.0 345.0,396.0 378.0,398.0 392.0,408.0 392.0,420.0 378.0,415.0 335.0,414.0 321.0,403.0 302.0,406.0 286.0,392.0 278.0,386.0" fill="#bce6e2"/>
<polygon points="322.0,405.0 335.0,409.0 378.0,410.0 380.0,415.0 335.0,414.0 324.0,411.0" fill="#96d8c8"/>
<polygon points="378.0,400.0 398.0,400.0 404.0,415.0 405.0,422.0 393.0,426.0 383.0,421.0 378.0,415.0" fill="#a8e0d8"/>
<polygon points="278.0,384.0 281.0,385.0 286.0,392.0 289.0,396.4 292.0,399.7 296.6,403.1 302.0,405.8 307.7,407.5 312.0,406.4 316.5,404.7 321.0,403.1 322.6,407.5 318.2,408.6 316.5,414.0 308.8,418.6 299.9,421.9 291.0,423.5 285.0,414.0 281.0,407.0 278.0,407.0" fill="#6ecfaf"/>
<polygon points="278.0,407.0 281.0,407.0 285.0,414.0 291.0,423.5 300.0,422.0 309.0,418.6 316.5,414.0 318.2,408.6 319.8,419.7 326.5,424.6 335.7,428.7 338.6,433.4 334.8,443.0 325.4,452.9 316.0,464.5 299.0,470.8 282.0,480.4 278.0,482.0" fill="#84d4c0"/>
<polygon points="321.0,403.1 322.6,407.5 324.3,411.4 327.6,413.6 335.0,414.3 378.7,415.0 383.5,421.0 389.3,424.8 396.0,428.7 394.0,434.7 399.0,441.4 408.0,444.2 413.7,438.6 416.5,442.5 417.0,456.0 419.9,469.6 424.0,482.0 282.0,482.0 299.0,470.8 316.0,464.5 325.4,452.9 334.8,443.0 338.6,433.4 335.7,428.7 326.5,424.6 319.8,419.7 318.7,414.1 318.2,408.6" fill="#62b8a2"/>
<polygon points="326.0,455.0 417.0,455.0 423.0,482.0 290.0,482.0 305.0,469.0 316.0,464.5" fill="#59ac99"/>
<polygon points="401.7,430.6 416.5,434.7 417.0,449.0 419.9,469.6 424.0,482.0 492.0,482.0 492.0,430.0 440.0,428.0 420.0,428.0 405.0,425.0" fill="#80d4b8"/>
<polygon points="388.0,420.0 408.0,418.0 420.0,428.0 418.0,446.0 400.0,446.0 391.0,436.0" fill="#86d4bd"/>
<polygon points="424.0,437.0 457.0,437.0 460.0,460.0 440.0,471.0 424.0,465.0" fill="#98dcc8"/>
<polygon points="470.0,470.0 480.0,462.0 492.0,452.0 492.0,482.0 462.0,482.0" fill="#62b4a2"/>
</g>
<polyline points="281.6,292.2 285.2,295.2 287.7,298.9 290.1,302.5 293.7,304.3 296.1,306.1 296.1,309.7 294.9,313.4 296.1,318.2 297.3,321.8 299.7,324.2 302.1,325.4 303.4,329.0 304.0,333.9 304.0,338.7 303.4,342.3 298.5,342.9 292.5,343.5 285.2,341.1 281.0,338.7" fill="none" stroke="#1e2a2a" stroke-width="0.75" stroke-linejoin="round"/>
<polyline points="297.9,309.7 303.4,309.1 305.8,312.1 308.8,316.4 307.0,317.6 302.1,317.0 299.1,315.8 297.9,312.7 297.9,309.7" fill="none" stroke="#1e2a2a" stroke-width="0.75" stroke-linejoin="round"/>
<polyline points="329.9,290.5 329.9,291.6 331.1,300.1 333.5,298.9 338.0,298.3 343.4,298.5 349.7,292.1 351.0,291.0" fill="none" stroke="#1e2a2a" stroke-width="0.75" stroke-linejoin="round"/>
<polyline points="304.0,338.7 307.0,337.5 311.8,335.1 317.8,333.6 323.9,333.9 328.7,335.1 334.7,336.3 338.0,337.5 342.7,343.1 346.3,347.6 348.1,351.3 353.5,352.2 359.0,350.4 364.4,347.6 368.9,343.1 371.7,339.5 375.3,337.7 380.7,338.6 386.1,339.5 391.6,338.6 397.0,336.8 400.6,335.0 404.2,333.1 407.0,334.0 407.9,337.7 409.7,339.5 413.3,338.6 420.0,336.8 424.3,338.9 428.7,340.0" fill="none" stroke="#1e2a2a" stroke-width="0.75" stroke-linejoin="round"/>
<polyline points="348.1,351.3 346.3,355.8 344.5,361.2 343.6,366.7 344.5,373.9 346.3,379.3 348.1,384.8 347.2,387.5 349.7,388.5" fill="none" stroke="#1e2a2a" stroke-width="0.75" stroke-linejoin="round"/>
<polyline points="347.2,387.5 351.7,389.3 360.8,388.7 369.8,387.5 377.1,384.8 378.9,381.1 382.5,378.4 389.8,375.7 395.2,372.1 398.8,366.7 402.4,361.2 406.1,357.6 408.8,352.2 409.7,346.7 407.9,343.1 411.0,343.3 417.6,342.2 426.5,341.1 435.3,346.7 444.2,351.1 453.0,350.0 458.6,347.8 460.8,351.1 459.7,354.4 455.3,356.6 453.0,359.9 450.8,363.3 451.9,367.7 453.0,372.1 456.4,376.5 461.9,381.0 467.9,383.2 475.2,386.5 482.0,390.0 490.0,392.0" fill="none" stroke="#1e2a2a" stroke-width="0.75" stroke-linejoin="round"/>
<polyline points="349.7,388.5 354.0,392.7 358.2,398.0 359.6,400.0 358.7,403.8 354.8,407.6 352.0,410.5 350.1,414.6" fill="none" stroke="#1e2a2a" stroke-width="0.75" stroke-linejoin="round"/>
<polyline points="280.5,384.0 283.0,388.0 286.1,392.0 288.9,396.4 292.2,399.7 296.6,403.1 302.1,405.8 307.7,407.5 312.1,406.4 316.5,404.7 321.0,403.1 322.6,407.5 324.3,411.4 327.6,413.6 332.0,414.1 335.0,414.3 349.7,414.6 364.5,414.6 378.7,415.0 380.6,418.2 383.5,421.0 386.4,423.9 389.3,424.8 393.1,425.8 396.0,428.7 398.8,430.6 401.7,430.6" fill="none" stroke="#1e2a2a" stroke-width="0.75" stroke-linejoin="round"/>
<polyline points="405.5,419.1 404.5,415.3 402.6,411.5 399.8,407.6 397.7,403.8 397.9,400.0 402.1,401.0 408.8,396.6 415.4,392.2 421.0,386.6 423.2,386.5 425.4,382.1 427.6,376.5 426.5,369.9 424.3,363.3 423.2,356.6 431.0,354.4 438.0,352.5 444.2,351.1" fill="none" stroke="#1e2a2a" stroke-width="0.75" stroke-linejoin="round"/>
<polyline points="405.5,419.1 403.6,422.0 398.0,423.0 393.1,425.8" fill="none" stroke="#1e2a2a" stroke-width="0.75" stroke-linejoin="round"/>
<polyline points="391.0,421.0 396.0,420.5 402.0,421.5 407.0,420.5" fill="none" stroke="#1e2a2a" stroke-width="0.75" stroke-linejoin="round"/>
<polyline points="391.1,425.6 394.5,430.1 399.0,431.3 402.4,429.6 401.3,432.4 396.8,433.5 393.9,434.7 395.6,438.0 399.0,441.4 403.5,444.2 408.0,444.2 412.0,442.0 413.7,438.6 413.1,435.8 414.2,434.7 416.5,434.7 417.0,436.3 415.4,438.6 416.5,442.5 417.0,449.3 417.0,456.1 418.2,462.8 419.9,469.6 421.6,475.2 423.8,479.8 424.5,481.0" fill="none" stroke="#1e2a2a" stroke-width="0.75" stroke-linejoin="round"/>
<polyline points="318.2,408.6 318.7,414.1 319.8,419.7 322.0,422.4 326.5,424.6 330.9,426.3 335.7,428.7 338.6,433.4 337.6,438.2 334.8,443.0 331.9,447.8 325.4,452.9 322.3,458.2 316.0,464.5 305.4,468.7 299.0,470.8 292.7,474.0 286.3,477.2 282.1,480.4" fill="none" stroke="#1e2a2a" stroke-width="0.75" stroke-linejoin="round"/>
<polyline points="318.2,408.6 316.5,414.1 313.2,415.8 308.8,418.6 304.3,421.3 299.9,421.9 295.5,422.4 291.1,423.5 288.9,421.3 286.6,417.5 285.0,414.1 283.3,410.8 281.0,407.0" fill="none" stroke="#1e2a2a" stroke-width="0.75" stroke-linejoin="round"/>
<polyline points="285.0,410.5 287.5,410.2 290.0,413.0 291.0,417.0 290.0,421.0 288.0,422.0 286.0,420.0 284.5,416.0 284.0,412.0 285.0,410.5" fill="none" stroke="#1e2a2a" stroke-width="0.75" stroke-linejoin="round"/>
<polyline points="292.7,456.1 293.7,459.2 296.9,464.5 300.1,468.7" fill="none" stroke="#1e2a2a" stroke-width="0.75" stroke-linejoin="round"/>
<polyline points="461.5,291.0 462.3,296.5 463.7,302.1 461.5,304.9 459.4,307.7 455.2,310.5 448.2,314.1 442.5,316.2 436.9,318.3 432.7,318.3 428.5,320.4 424.2,323.2 421.4,326.0 420.0,328.8 422.8,333.0 425.6,336.6 428.5,338.7 431.3,341.5" fill="none" stroke="#1e2a2a" stroke-width="0.75" stroke-linejoin="round"/>
<polyline points="459.7,380.0 464.1,384.4 460.8,388.9 466.3,393.3 473.0,398.8 479.6,402.1 490.0,404.3" fill="none" stroke="#1e2a2a" stroke-width="0.75" stroke-linejoin="round"/>
<polyline points="459.7,482.0 464.1,475.2 468.5,471.0 473.6,469.0 479.0,463.6 484.5,459.0 489.5,453.6" fill="none" stroke="#1e2a2a" stroke-width="0.75" stroke-linejoin="round"/>
<path d="M442.3,298.1H448.2" stroke="#1e2a2a" stroke-width="0.9"/>
<ellipse cx="443.3" cy="306.6" rx="6.2" ry="1.5" transform="rotate(-8 443.3 306.6)" fill="#a8dde4" stroke="#1e2a2a" stroke-width="0.6"/>
<path d="M281.0,303.3h1.8M291.4,303.3h1.8M301.8,303.3h1.8M312.2,303.3h1.8M322.6,303.3h1.8M333.0,303.3h1.8M343.4,303.3h1.8M353.8,303.3h1.8M364.2,303.3h1.8M374.6,303.3h1.8M385.0,303.3h1.8M395.4,303.3h1.8M405.8,303.3h1.8M280.9,314.5h2.0M291.3,314.5h2.0M301.7,314.5h2.0M312.1,314.5h2.0M322.5,314.5h2.0M332.9,314.5h2.0M343.3,314.5h2.0M353.7,314.5h2.0M364.1,314.5h2.0M374.5,314.5h2.0M384.9,314.5h2.0M395.3,314.5h2.0M405.7,314.5h2.0M280.7,325.6h2.4M291.1,325.6h2.4M301.5,325.6h2.4M311.9,325.6h2.4M322.3,325.6h2.4M332.7,325.6h2.4M343.1,325.6h2.4M353.5,325.6h2.4M363.9,325.6h2.4M374.3,325.6h2.4M384.7,325.6h2.4M395.1,325.6h2.4M280.6,336.7h2.6M291.0,336.7h2.6M301.4,336.7h2.6M311.8,336.7h2.6M322.2,336.7h2.6M332.6,336.7h2.6M343.0,336.7h2.6M353.4,336.7h2.6M363.8,336.7h2.6M374.2,336.7h2.6M384.6,336.7h2.6M395.0,336.7h2.6M281.0,347.9h1.8M291.4,347.9h1.8M301.8,347.9h1.8M312.2,347.9h1.8M322.6,347.9h1.8M333.0,347.9h1.8M343.4,347.9h1.8M280.3,359.0h3.2M290.7,359.0h3.2M301.1,359.0h3.2M311.5,359.0h3.2M321.9,359.0h3.2M332.3,359.0h3.2M342.7,359.0h3.2M353.8,359.0h1.8M364.2,359.0h1.8M374.6,359.0h1.8M385.0,359.0h1.8M395.4,359.0h1.8M405.8,359.0h1.8M416.2,359.0h1.8M458.1,381.2h1.2M468.5,381.2h1.2M478.9,381.2h1.2M489.3,381.2h1.2M488.8,392.4h2.2" stroke="#222" stroke-width="1.1" fill="none"/>
<path d="M280.1,370.1h3.3M290.4,370.1h3.3M300.9,370.1h3.3M311.2,370.1h3.3M321.7,370.1h3.3M332.1,370.1h3.3M342.5,370.1h3.3M352.9,370.1h3.3M363.2,370.1h3.3M373.7,370.1h3.3M384.1,370.1h3.3M394.5,370.1h3.3M404.9,370.1h3.3M415.2,370.1h3.3M425.6,370.1h3.3M436.1,370.1h3.3M279.6,381.2h4.3M289.9,381.2h4.3M300.4,381.2h4.3M310.8,381.2h4.3M321.2,381.2h4.3M331.6,381.2h4.3M342.0,381.2h4.3M352.4,381.2h4.3M362.8,381.2h4.3M373.2,381.2h4.3M383.6,381.2h4.3M394.0,381.2h4.3M404.4,381.2h4.3M414.8,381.2h4.3M425.1,381.2h4.3M435.6,381.2h4.3M446.0,381.2h4.3M278.8,392.4h5.8M289.2,392.4h5.8M299.6,392.4h5.8M310.0,392.4h5.8M320.4,392.4h5.8M330.8,392.4h5.8M341.2,392.4h5.8M351.6,392.4h5.8M362.0,392.4h5.8M372.4,392.4h5.8M382.8,392.4h5.8M393.2,392.4h5.8M403.6,392.4h5.8M414.0,392.4h5.8M424.4,392.4h5.8M434.8,392.4h5.8M445.2,392.4h5.8M455.6,392.4h5.8M466.0,392.4h5.8M476.4,392.4h5.8M277.5,403.5h8.4M287.9,403.5h8.4M298.3,403.5h8.4M308.7,403.5h8.4M319.1,403.5h8.4M329.5,403.5h8.4M339.9,403.5h8.4M350.3,403.5h8.4M360.7,403.5h8.4M371.1,403.5h8.4M381.5,403.5h8.4M391.9,403.5h8.4M402.3,403.5h8.4M412.7,403.5h8.4M423.1,403.5h8.4M433.5,403.5h8.4M443.9,403.5h8.4M454.3,403.5h8.4M464.7,403.5h8.4M475.1,403.5h8.4M485.5,403.5h8.4M277.5,414.6h8.4M287.9,414.6h8.4M298.3,414.6h8.4M308.7,414.6h8.4M319.1,414.6h8.4M329.5,414.6h8.4M339.9,414.6h8.4M350.3,414.6h8.4M360.7,414.6h8.4M371.1,414.6h8.4M381.5,414.6h8.4M391.9,414.6h8.4M402.3,414.6h8.4M412.7,414.6h8.4M423.1,414.6h8.4M433.5,414.6h8.4M443.9,414.6h8.4M454.3,414.6h8.4M464.7,414.6h8.4M475.1,414.6h8.4M485.5,414.6h8.4M277.5,425.8h8.4M287.9,425.8h8.4M298.3,425.8h8.4M308.7,425.8h8.4M319.1,425.8h8.4M330.0,425.8h7.4M340.4,425.8h7.4M350.8,425.8h7.4M361.2,425.8h7.4M371.6,425.8h7.4M382.0,425.8h7.4M392.4,425.8h7.4M402.8,425.8h7.4M413.2,425.8h7.4M423.6,425.8h7.4M434.0,425.8h7.4M444.4,425.8h7.4M454.8,425.8h7.4M465.2,425.8h7.4M475.6,425.8h7.4M486.0,425.8h7.4M278.2,436.9h7.0M288.6,436.9h7.0M299.0,436.9h7.0M309.4,436.9h7.0M319.8,436.9h7.0M330.2,436.9h7.0M340.6,436.9h7.0M351.0,436.9h7.0M361.4,436.9h7.0M371.8,436.9h7.0M382.2,436.9h7.0M392.6,436.9h7.0M403.0,436.9h7.0M413.4,436.9h7.0M423.8,436.9h7.0M434.2,436.9h7.0M444.6,436.9h7.0M455.0,436.9h7.0M465.4,436.9h7.0M475.8,436.9h7.0M486.2,436.9h7.0M278.5,448.0h6.4M288.9,448.0h6.4M299.3,448.0h6.4M309.7,448.0h6.4M320.1,448.0h6.4M330.5,448.0h6.4M340.9,448.0h6.4M351.3,448.0h6.4M361.7,448.0h6.4M372.1,448.0h6.4M382.5,448.0h6.4M392.9,448.0h6.4M403.3,448.0h6.4M413.7,448.0h6.4M424.1,448.0h6.4M434.5,448.0h6.4M444.9,448.0h6.4M455.3,448.0h6.4M465.7,448.0h6.4M476.1,448.0h6.4M486.5,448.0h6.4M279.0,459.1h5.4M289.4,459.1h5.4M299.8,459.1h5.4M310.2,459.1h5.4M320.6,459.1h5.4M331.0,459.1h5.4M341.4,459.1h5.4M351.8,459.1h5.4M362.2,459.1h5.4M372.6,459.1h5.4M383.0,459.1h5.4M393.4,459.1h5.4M403.8,459.1h5.4M414.2,459.1h5.4M424.6,459.1h5.4M435.0,459.1h5.4M445.4,459.1h5.4M455.8,459.1h5.4M466.2,459.1h5.4M476.6,459.1h5.4M487.0,459.1h5.4M279.3,470.3h4.8M289.7,470.3h4.8M300.1,470.3h4.8M310.5,470.3h4.8M320.9,470.3h4.8M331.3,470.3h4.8M341.7,470.3h4.8M352.1,470.3h4.8M362.5,470.3h4.8M372.9,470.3h4.8M383.3,470.3h4.8M393.7,470.3h4.8M404.1,470.3h4.8M414.5,470.3h4.8M424.9,470.3h4.8M435.3,470.3h4.8M445.7,470.3h4.8M456.1,470.3h4.8M466.5,470.3h4.8M476.9,470.3h4.8M487.3,470.3h4.8" stroke="#222" stroke-width="0.8" fill="none"/>
<path d="M281.4,291.3h1.7v1.7h-1.7zM291.8,291.3h1.7v1.7h-1.7zM302.2,291.3h1.7v1.7h-1.7zM312.6,291.3h1.7v1.7h-1.7zM323.1,291.3h1.7v1.7h-1.7zM333.4,291.3h1.7v1.7h-1.7zM343.9,291.3h1.7v1.7h-1.7zM354.2,291.3h1.7v1.7h-1.7zM364.6,291.3h1.7v1.7h-1.7zM375.1,291.3h1.7v1.7h-1.7zM385.4,291.3h1.7v1.7h-1.7zM395.9,291.3h1.7v1.7h-1.7zM406.2,291.3h1.7v1.7h-1.7zM416.6,291.3h1.7v1.7h-1.7zM427.0,291.3h1.7v1.7h-1.7zM437.4,291.3h1.7v1.7h-1.7zM447.9,291.3h1.7v1.7h-1.7zM458.2,291.3h1.7v1.7h-1.7zM468.6,291.3h1.7v1.7h-1.7zM479.0,291.3h1.7v1.7h-1.7zM489.4,291.3h1.7v1.7h-1.7zM283.9,303.3l-1.8,-0.95v1.9zM294.3,303.3l-1.8,-0.95v1.9zM304.7,303.3l-1.8,-0.95v1.9zM315.1,303.3l-1.8,-0.95v1.9zM325.5,303.3l-1.8,-0.95v1.9zM335.9,303.3l-1.8,-0.95v1.9zM346.3,303.3l-1.8,-0.95v1.9zM356.7,303.3l-1.8,-0.95v1.9zM367.1,303.3l-1.8,-0.95v1.9zM377.5,303.3l-1.8,-0.95v1.9zM387.9,303.3l-1.8,-0.95v1.9zM398.3,303.3l-1.8,-0.95v1.9zM408.7,303.3l-1.8,-0.95v1.9zM416.6,302.5h1.7v1.7h-1.7zM427.0,302.5h1.7v1.7h-1.7zM437.4,302.5h1.7v1.7h-1.7zM447.9,302.5h1.7v1.7h-1.7zM458.2,302.5h1.7v1.7h-1.7zM468.6,302.5h1.7v1.7h-1.7zM479.0,302.5h1.7v1.7h-1.7zM489.4,302.5h1.7v1.7h-1.7zM284.0,314.5l-1.8,-0.95v1.9zM294.4,314.5l-1.8,-0.95v1.9zM304.8,314.5l-1.8,-0.95v1.9zM315.2,314.5l-1.8,-0.95v1.9zM325.6,314.5l-1.8,-0.95v1.9zM336.0,314.5l-1.8,-0.95v1.9zM346.4,314.5l-1.8,-0.95v1.9zM356.8,314.5l-1.8,-0.95v1.9zM367.2,314.5l-1.8,-0.95v1.9zM377.6,314.5l-1.8,-0.95v1.9zM388.0,314.5l-1.8,-0.95v1.9zM398.4,314.5l-1.8,-0.95v1.9zM408.8,314.5l-1.8,-0.95v1.9zM416.6,313.6h1.7v1.7h-1.7zM427.0,313.6h1.7v1.7h-1.7zM437.4,313.6h1.7v1.7h-1.7zM447.9,313.6h1.7v1.7h-1.7zM458.2,313.6h1.7v1.7h-1.7zM468.6,313.6h1.7v1.7h-1.7zM479.0,313.6h1.7v1.7h-1.7zM489.4,313.6h1.7v1.7h-1.7zM284.2,325.6l-1.8,-0.95v1.9zM294.6,325.6l-1.8,-0.95v1.9zM305.0,325.6l-1.8,-0.95v1.9zM315.4,325.6l-1.8,-0.95v1.9zM325.8,325.6l-1.8,-0.95v1.9zM336.2,325.6l-1.8,-0.95v1.9zM346.6,325.6l-1.8,-0.95v1.9zM357.0,325.6l-1.8,-0.95v1.9zM367.4,325.6l-1.8,-0.95v1.9zM377.8,325.6l-1.8,-0.95v1.9zM388.2,325.6l-1.8,-0.95v1.9zM398.6,325.6l-1.8,-0.95v1.9zM406.2,324.7h1.7v1.7h-1.7zM416.6,324.7h1.7v1.7h-1.7zM427.0,324.7h1.7v1.7h-1.7zM437.4,324.7h1.7v1.7h-1.7zM447.9,324.7h1.7v1.7h-1.7zM458.2,324.7h1.7v1.7h-1.7zM468.6,324.7h1.7v1.7h-1.7zM479.0,324.7h1.7v1.7h-1.7zM489.4,324.7h1.7v1.7h-1.7zM284.3,336.7l-1.8,-0.95v1.9zM294.7,336.7l-1.8,-0.95v1.9zM305.1,336.7l-1.8,-0.95v1.9zM315.5,336.7l-1.8,-0.95v1.9zM325.9,336.7l-1.8,-0.95v1.9zM336.3,336.7l-1.8,-0.95v1.9zM346.7,336.7l-1.8,-0.95v1.9zM357.1,336.7l-1.8,-0.95v1.9zM367.5,336.7l-1.8,-0.95v1.9zM377.9,336.7l-1.8,-0.95v1.9zM388.3,336.7l-1.8,-0.95v1.9zM398.7,336.7l-1.8,-0.95v1.9zM406.2,335.9h1.7v1.7h-1.7zM416.6,335.9h1.7v1.7h-1.7zM427.0,335.9h1.7v1.7h-1.7zM437.4,335.9h1.7v1.7h-1.7zM447.9,335.9h1.7v1.7h-1.7zM458.2,335.9h1.7v1.7h-1.7zM468.6,335.9h1.7v1.7h-1.7zM479.0,335.9h1.7v1.7h-1.7zM489.4,335.9h1.7v1.7h-1.7zM283.9,347.9l-1.8,-0.95v1.9zM294.3,347.9l-1.8,-0.95v1.9zM304.7,347.9l-1.8,-0.95v1.9zM315.1,347.9l-1.8,-0.95v1.9zM325.5,347.9l-1.8,-0.95v1.9zM335.9,347.9l-1.8,-0.95v1.9zM346.3,347.9l-1.8,-0.95v1.9zM354.2,347.0h1.7v1.7h-1.7zM364.6,347.0h1.7v1.7h-1.7zM375.1,347.0h1.7v1.7h-1.7zM385.4,347.0h1.7v1.7h-1.7zM395.9,347.0h1.7v1.7h-1.7zM406.2,347.0h1.7v1.7h-1.7zM416.6,347.0h1.7v1.7h-1.7zM427.0,347.0h1.7v1.7h-1.7zM437.4,347.0h1.7v1.7h-1.7zM447.9,347.0h1.7v1.7h-1.7zM458.2,347.0h1.7v1.7h-1.7zM468.6,347.0h1.7v1.7h-1.7zM479.0,347.0h1.7v1.7h-1.7zM489.4,347.0h1.7v1.7h-1.7zM284.6,359.0l-1.8,-0.95v1.9zM295.0,359.0l-1.8,-0.95v1.9zM305.4,359.0l-1.8,-0.95v1.9zM315.8,359.0l-1.8,-0.95v1.9zM326.2,359.0l-1.8,-0.95v1.9zM336.6,359.0l-1.8,-0.95v1.9zM347.0,359.0l-1.8,-0.95v1.9zM356.7,359.0l-1.8,-0.95v1.9zM367.1,359.0l-1.8,-0.95v1.9zM377.5,359.0l-1.8,-0.95v1.9zM387.9,359.0l-1.8,-0.95v1.9zM398.3,359.0l-1.8,-0.95v1.9zM408.7,359.0l-1.8,-0.95v1.9zM419.1,359.0l-1.8,-0.95v1.9zM427.0,358.1h1.7v1.7h-1.7zM437.4,358.1h1.7v1.7h-1.7zM447.9,358.1h1.7v1.7h-1.7zM458.2,358.1h1.7v1.7h-1.7zM468.6,358.1h1.7v1.7h-1.7zM479.0,358.1h1.7v1.7h-1.7zM489.4,358.1h1.7v1.7h-1.7zM284.9,370.1l-2.4,-1.15v2.3zM295.2,370.1l-2.4,-1.15v2.3zM305.7,370.1l-2.4,-1.15v2.3zM316.1,370.1l-2.4,-1.15v2.3zM326.5,370.1l-2.4,-1.15v2.3zM336.9,370.1l-2.4,-1.15v2.3zM347.3,370.1l-2.4,-1.15v2.3zM357.7,370.1l-2.4,-1.15v2.3zM368.1,370.1l-2.4,-1.15v2.3zM378.5,370.1l-2.4,-1.15v2.3zM388.9,370.1l-2.4,-1.15v2.3zM399.3,370.1l-2.4,-1.15v2.3zM409.7,370.1l-2.4,-1.15v2.3zM420.1,370.1l-2.4,-1.15v2.3zM430.4,370.1l-2.4,-1.15v2.3zM440.9,370.1l-2.4,-1.15v2.3zM447.9,369.3h1.7v1.7h-1.7zM458.2,369.3h1.7v1.7h-1.7zM468.6,369.3h1.7v1.7h-1.7zM479.0,369.3h1.7v1.7h-1.7zM489.4,369.3h1.7v1.7h-1.7zM285.4,381.2l-2.4,-1.15v2.3zM295.8,381.2l-2.4,-1.15v2.3zM306.2,381.2l-2.4,-1.15v2.3zM316.6,381.2l-2.4,-1.15v2.3zM327.0,381.2l-2.4,-1.15v2.3zM337.4,381.2l-2.4,-1.15v2.3zM347.8,381.2l-2.4,-1.15v2.3zM358.2,381.2l-2.4,-1.15v2.3zM368.6,381.2l-2.4,-1.15v2.3zM379.0,381.2l-2.4,-1.15v2.3zM389.4,381.2l-2.4,-1.15v2.3zM399.8,381.2l-2.4,-1.15v2.3zM410.2,381.2l-2.4,-1.15v2.3zM420.6,381.2l-2.4,-1.15v2.3zM430.9,381.2l-2.4,-1.15v2.3zM441.4,381.2l-2.4,-1.15v2.3zM451.8,381.2l-2.4,-1.15v2.3zM460.4,381.2l-1.8,-0.95v1.9zM470.8,381.2l-1.8,-0.95v1.9zM481.2,381.2l-1.8,-0.95v1.9zM491.6,381.2l-1.8,-0.95v1.9zM286.1,392.4l-2.4,-1.15v2.3zM296.5,392.4l-2.4,-1.15v2.3zM306.9,392.4l-2.4,-1.15v2.3zM317.3,392.4l-2.4,-1.15v2.3zM327.7,392.4l-2.4,-1.15v2.3zM338.1,392.4l-2.4,-1.15v2.3zM348.5,392.4l-2.4,-1.15v2.3zM358.9,392.4l-2.4,-1.15v2.3zM369.3,392.4l-2.4,-1.15v2.3zM379.7,392.4l-2.4,-1.15v2.3zM390.1,392.4l-2.4,-1.15v2.3zM400.5,392.4l-2.4,-1.15v2.3zM410.9,392.4l-2.4,-1.15v2.3zM421.3,392.4l-2.4,-1.15v2.3zM431.7,392.4l-2.4,-1.15v2.3zM442.1,392.4l-2.4,-1.15v2.3zM452.5,392.4l-2.4,-1.15v2.3zM462.9,392.4l-2.4,-1.15v2.3zM473.3,392.4l-2.4,-1.15v2.3zM483.7,392.4l-2.4,-1.15v2.3zM492.1,392.4l-1.8,-0.95v1.9zM287.4,403.5l-2.4,-1.15v2.3zM297.8,403.5l-2.4,-1.15v2.3zM308.2,403.5l-2.4,-1.15v2.3zM318.6,403.5l-2.4,-1.15v2.3zM329.0,403.5l-2.4,-1.15v2.3zM339.4,403.5l-2.4,-1.15v2.3zM349.8,403.5l-2.4,-1.15v2.3zM360.2,403.5l-2.4,-1.15v2.3zM370.6,403.5l-2.4,-1.15v2.3zM381.0,403.5l-2.4,-1.15v2.3zM391.4,403.5l-2.4,-1.15v2.3zM401.8,403.5l-2.4,-1.15v2.3zM412.2,403.5l-2.4,-1.15v2.3zM422.6,403.5l-2.4,-1.15v2.3zM433.0,403.5l-2.4,-1.15v2.3zM443.4,403.5l-2.4,-1.15v2.3zM453.8,403.5l-2.4,-1.15v2.3zM464.2,403.5l-2.4,-1.15v2.3zM474.6,403.5l-2.4,-1.15v2.3zM485.0,403.5l-2.4,-1.15v2.3zM495.4,403.5l-2.4,-1.15v2.3zM287.4,414.6l-2.4,-1.15v2.3zM297.8,414.6l-2.4,-1.15v2.3zM308.2,414.6l-2.4,-1.15v2.3zM318.6,414.6l-2.4,-1.15v2.3zM329.0,414.6l-2.4,-1.15v2.3zM339.4,414.6l-2.4,-1.15v2.3zM349.8,414.6l-2.4,-1.15v2.3zM360.2,414.6l-2.4,-1.15v2.3zM370.6,414.6l-2.4,-1.15v2.3zM381.0,414.6l-2.4,-1.15v2.3zM391.4,414.6l-2.4,-1.15v2.3zM401.8,414.6l-2.4,-1.15v2.3zM412.2,414.6l-2.4,-1.15v2.3zM422.6,414.6l-2.4,-1.15v2.3zM433.0,414.6l-2.4,-1.15v2.3zM443.4,414.6l-2.4,-1.15v2.3zM453.8,414.6l-2.4,-1.15v2.3zM464.2,414.6l-2.4,-1.15v2.3zM474.6,414.6l-2.4,-1.15v2.3zM485.0,414.6l-2.4,-1.15v2.3zM495.4,414.6l-2.4,-1.15v2.3zM287.4,425.8l-2.4,-1.15v2.3zM297.8,425.8l-2.4,-1.15v2.3zM308.2,425.8l-2.4,-1.15v2.3zM318.6,425.8l-2.4,-1.15v2.3zM329.0,425.8l-2.4,-1.15v2.3zM338.9,425.8l-2.4,-1.15v2.3zM349.3,425.8l-2.4,-1.15v2.3zM359.7,425.8l-2.4,-1.15v2.3zM370.1,425.8l-2.4,-1.15v2.3zM380.5,425.8l-2.4,-1.15v2.3zM390.9,425.8l-2.4,-1.15v2.3zM401.3,425.8l-2.4,-1.15v2.3zM411.7,425.8l-2.4,-1.15v2.3zM422.1,425.8l-2.4,-1.15v2.3zM432.5,425.8l-2.4,-1.15v2.3zM442.9,425.8l-2.4,-1.15v2.3zM453.3,425.8l-2.4,-1.15v2.3zM463.7,425.8l-2.4,-1.15v2.3zM474.1,425.8l-2.4,-1.15v2.3zM484.5,425.8l-2.4,-1.15v2.3zM494.9,425.8l-2.4,-1.15v2.3zM286.7,436.9l-2.4,-1.15v2.3zM297.1,436.9l-2.4,-1.15v2.3zM307.5,436.9l-2.4,-1.15v2.3zM317.9,436.9l-2.4,-1.15v2.3zM328.3,436.9l-2.4,-1.15v2.3zM338.7,436.9l-2.4,-1.15v2.3zM349.1,436.9l-2.4,-1.15v2.3zM359.5,436.9l-2.4,-1.15v2.3zM369.9,436.9l-2.4,-1.15v2.3zM380.3,436.9l-2.4,-1.15v2.3zM390.7,436.9l-2.4,-1.15v2.3zM401.1,436.9l-2.4,-1.15v2.3zM411.5,436.9l-2.4,-1.15v2.3zM421.9,436.9l-2.4,-1.15v2.3zM432.3,436.9l-2.4,-1.15v2.3zM442.7,436.9l-2.4,-1.15v2.3zM453.1,436.9l-2.4,-1.15v2.3zM463.5,436.9l-2.4,-1.15v2.3zM473.9,436.9l-2.4,-1.15v2.3zM484.3,436.9l-2.4,-1.15v2.3zM494.7,436.9l-2.4,-1.15v2.3zM286.4,448.0l-2.4,-1.15v2.3zM296.8,448.0l-2.4,-1.15v2.3zM307.2,448.0l-2.4,-1.15v2.3zM317.6,448.0l-2.4,-1.15v2.3zM328.0,448.0l-2.4,-1.15v2.3zM338.4,448.0l-2.4,-1.15v2.3zM348.8,448.0l-2.4,-1.15v2.3zM359.2,448.0l-2.4,-1.15v2.3zM369.6,448.0l-2.4,-1.15v2.3zM380.0,448.0l-2.4,-1.15v2.3zM390.4,448.0l-2.4,-1.15v2.3zM400.8,448.0l-2.4,-1.15v2.3zM411.2,448.0l-2.4,-1.15v2.3zM421.6,448.0l-2.4,-1.15v2.3zM432.0,448.0l-2.4,-1.15v2.3zM442.4,448.0l-2.4,-1.15v2.3zM452.8,448.0l-2.4,-1.15v2.3zM463.2,448.0l-2.4,-1.15v2.3zM473.6,448.0l-2.4,-1.15v2.3zM484.0,448.0l-2.4,-1.15v2.3zM494.4,448.0l-2.4,-1.15v2.3zM285.9,459.1l-2.4,-1.15v2.3zM296.3,459.1l-2.4,-1.15v2.3zM306.7,459.1l-2.4,-1.15v2.3zM317.1,459.1l-2.4,-1.15v2.3zM327.5,459.1l-2.4,-1.15v2.3zM337.9,459.1l-2.4,-1.15v2.3zM348.3,459.1l-2.4,-1.15v2.3zM358.7,459.1l-2.4,-1.15v2.3zM369.1,459.1l-2.4,-1.15v2.3zM379.5,459.1l-2.4,-1.15v2.3zM389.9,459.1l-2.4,-1.15v2.3zM400.3,459.1l-2.4,-1.15v2.3zM410.7,459.1l-2.4,-1.15v2.3zM421.1,459.1l-2.4,-1.15v2.3zM431.5,459.1l-2.4,-1.15v2.3zM441.9,459.1l-2.4,-1.15v2.3zM452.3,459.1l-2.4,-1.15v2.3zM462.7,459.1l-2.4,-1.15v2.3zM473.1,459.1l-2.4,-1.15v2.3zM483.5,459.1l-2.4,-1.15v2.3zM493.9,459.1l-2.4,-1.15v2.3zM285.6,470.3l-2.4,-1.15v2.3zM296.0,470.3l-2.4,-1.15v2.3zM306.4,470.3l-2.4,-1.15v2.3zM316.8,470.3l-2.4,-1.15v2.3zM327.2,470.3l-2.4,-1.15v2.3zM337.6,470.3l-2.4,-1.15v2.3zM348.0,470.3l-2.4,-1.15v2.3zM358.4,470.3l-2.4,-1.15v2.3zM368.8,470.3l-2.4,-1.15v2.3zM379.2,470.3l-2.4,-1.15v2.3zM389.6,470.3l-2.4,-1.15v2.3zM400.0,470.3l-2.4,-1.15v2.3zM410.4,470.3l-2.4,-1.15v2.3zM420.8,470.3l-2.4,-1.15v2.3zM431.2,470.3l-2.4,-1.15v2.3zM441.6,470.3l-2.4,-1.15v2.3zM452.0,470.3l-2.4,-1.15v2.3zM462.4,470.3l-2.4,-1.15v2.3zM472.8,470.3l-2.4,-1.15v2.3zM483.2,470.3l-2.4,-1.15v2.3zM493.6,470.3l-2.4,-1.15v2.3z" fill="#111"/>
</g>
<rect x="280.3" y="291" width="209.2" height="189.2" fill="none" stroke="#8a8f8f" stroke-width="1.2"/>
<text x="282.4" y="285.7" font-size="10.8" font-family="'Liberation Serif','Times New Roman',serif" font-weight="bold" fill="#111" stroke="#111" stroke-width="0.3" text-anchor="start">d</text>
<text x="249.5" y="314.1" font-size="10" font-family="'Liberation Serif','Times New Roman',serif" font-weight="normal" fill="#222" stroke="#222" stroke-width="0.12" text-anchor="start" textLength="20.6" lengthAdjust="spacingAndGlyphs">42 N</text>
<text x="249.5" y="355.0" font-size="10" font-family="'Liberation Serif','Times New Roman',serif" font-weight="normal" fill="#222" stroke="#222" stroke-width="0.12" text-anchor="start" textLength="20.6" lengthAdjust="spacingAndGlyphs">36 N</text>
<text x="249.5" y="387.7" font-size="10" font-family="'Liberation Serif','Times New Roman',serif" font-weight="normal" fill="#222" stroke="#222" stroke-width="0.12" text-anchor="start" textLength="20.6" lengthAdjust="spacingAndGlyphs">30 N</text>
<text x="249.5" y="426.2" font-size="10" font-family="'Liberation Serif','Times New Roman',serif" font-weight="normal" fill="#222" stroke="#222" stroke-width="0.12" text-anchor="start" textLength="20.6" lengthAdjust="spacingAndGlyphs">24 N</text>
<text x="249.5" y="463.7" font-size="10" font-family="'Liberation Serif','Times New Roman',serif" font-weight="normal" fill="#222" stroke="#222" stroke-width="0.12" text-anchor="start" textLength="20.6" lengthAdjust="spacingAndGlyphs">18 N</text>
<text x="277.7" y="496.0" font-size="10.5" font-family="'Liberation Serif','Times New Roman',serif" font-weight="normal" fill="#222" stroke="#222" stroke-width="0.12" text-anchor="start" textLength="20.3" lengthAdjust="spacingAndGlyphs">54 E</text>
<text x="311.6" y="496.0" font-size="10.5" font-family="'Liberation Serif','Times New Roman',serif" font-weight="normal" fill="#222" stroke="#222" stroke-width="0.12" text-anchor="start" textLength="20.3" lengthAdjust="spacingAndGlyphs">60 E</text>
<text x="348.3" y="496.0" font-size="10.5" font-family="'Liberation Serif','Times New Roman',serif" font-weight="normal" fill="#222" stroke="#222" stroke-width="0.12" text-anchor="start" textLength="20.3" lengthAdjust="spacingAndGlyphs">65 E</text>
<text x="383.2" y="496.0" font-size="10.5" font-family="'Liberation Serif','Times New Roman',serif" font-weight="normal" fill="#222" stroke="#222" stroke-width="0.12" text-anchor="start" textLength="20.3" lengthAdjust="spacingAndGlyphs">69 E</text>
<text x="419.4" y="496.0" font-size="10.5" font-family="'Liberation Serif','Times New Roman',serif" font-weight="normal" fill="#222" stroke="#222" stroke-width="0.12" text-anchor="start" textLength="20.3" lengthAdjust="spacingAndGlyphs">75 E</text>
<text x="454.7" y="496.0" font-size="10.5" font-family="'Liberation Serif','Times New Roman',serif" font-weight="normal" fill="#222" stroke="#222" stroke-width="0.12" text-anchor="start" textLength="20.3" lengthAdjust="spacingAndGlyphs">81 E</text>
<rect x="304.0" y="508" width="17.7" height="5.8" fill="#ffffff"/>
<rect x="321.4" y="508" width="17.7" height="5.8" fill="#d2eff2"/>
<rect x="338.7" y="508" width="17.7" height="5.8" fill="#b8e6e8"/>
<rect x="356.1" y="508" width="17.7" height="5.8" fill="#a2dcda"/>
<rect x="373.5" y="508" width="17.7" height="5.8" fill="#86d4c4"/>
<rect x="390.9" y="508" width="17.7" height="5.8" fill="#72cdb4"/>
<rect x="408.2" y="508" width="17.7" height="5.8" fill="#62c7a6"/>
<rect x="425.6" y="508" width="17.7" height="5.8" fill="#5cb99d"/>
<rect x="443.0" y="508" width="17.7" height="5.8" fill="#5aab96"/>
<rect x="460.3" y="508" width="17.7" height="5.8" fill="#579f92"/>
<path d="M321.4,508V513.8M338.7,508V513.8M356.1,508V513.8M373.5,508V513.8M390.9,508V513.8M408.2,508V513.8M425.6,508V513.8M443.0,508V513.8M460.3,508V513.8" stroke="#7aa" stroke-width="0.4" fill="none"/>
<rect x="304" y="508" width="173.7" height="5.8" fill="none" stroke="#9bb" stroke-width="0.5"/>
<text x="304.0" y="526.0" font-size="10.5" font-family="'Liberation Serif','Times New Roman',serif" font-weight="normal" fill="#222" stroke="#222" stroke-width="0.12" text-anchor="middle">0.08</text>
<text x="339.0" y="526.0" font-size="10.5" font-family="'Liberation Serif','Times New Roman',serif" font-weight="normal" fill="#222" stroke="#222" stroke-width="0.12" text-anchor="middle">0.10</text>
<text x="373.5" y="526.0" font-size="10.5" font-family="'Liberation Serif','Times New Roman',serif" font-weight="normal" fill="#222" stroke="#222" stroke-width="0.12" text-anchor="middle">0.12</text>
<text x="408.8" y="526.0" font-size="10.5" font-family="'Liberation Serif','Times New Roman',serif" font-weight="normal" fill="#222" stroke="#222" stroke-width="0.12" text-anchor="middle">0.14</text>
<text x="441.8" y="526.0" font-size="10.5" font-family="'Liberation Serif','Times New Roman',serif" font-weight="normal" fill="#222" stroke="#222" stroke-width="0.12" text-anchor="middle">0.16</text>
<text x="477.0" y="526.0" font-size="10.5" font-family="'Liberation Serif','Times New Roman',serif" font-weight="normal" fill="#222" stroke="#222" stroke-width="0.12" text-anchor="middle">0.20</text>
<text x="337.3" y="541.4" font-size="10.9" font-family="'Liberation Serif','Times New Roman',serif" font-weight="normal" fill="#222" stroke="#222" stroke-width="0.12" text-anchor="start">Specific humidity (kg kg<tspan font-size="6" dy="-4">-1</tspan><tspan dy="4">)</tspan></text>
<path d="M463.6,534.9H489" stroke="#111" stroke-width="0.9"/><path d="M493,534.9l-5,-2.4v4.8z" fill="#111"/>
<text x="473.0" y="544.5" font-size="10.5" font-family="'Liberation Serif','Times New Roman',serif" font-weight="normal" fill="#222" stroke="#222" stroke-width="0.12" text-anchor="start">20</text>
</svg></body></html>
